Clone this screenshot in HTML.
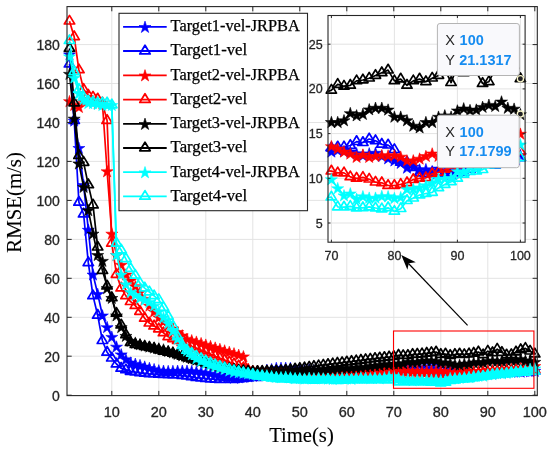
<!DOCTYPE html>
<html><head><meta charset="utf-8"><style>html,body{margin:0;padding:0;background:#fff;overflow:hidden}svg{display:block}</style></head><body>
<svg width="550" height="451" viewBox="0 0 550 451">
<defs><clipPath id="cm"><rect x="67.0" y="6.6" width="470.3" height="389.0"/></clipPath>
<clipPath id="ci"><rect x="328.0" y="15.5" width="197.1" height="226.7"/></clipPath></defs>
<rect width="550" height="451" fill="#fff"/>
<path d="M111.8,6.6V395.6M158.8,6.6V395.6M205.8,6.6V395.6M252.8,6.6V395.6M299.8,6.6V395.6M346.8,6.6V395.6M393.8,6.6V395.6M440.8,6.6V395.6M487.8,6.6V395.6M534.8,6.6V395.6M67.0,356.2H537.3M67.0,317.3H537.3M67.0,278.3H537.3M67.0,239.4H537.3M67.0,200.4H537.3M67.0,161.4H537.3M67.0,122.5H537.3M67.0,83.5H537.3M67.0,44.6H537.3" stroke="#e3e3e3" stroke-width="1" fill="none"/>
<path d="M69.5,54.3 74.2,120.5 78.9,147.8 83.6,184.8 88.3,229.6 93.0,274.4 97.7,293.9 102.4,315.3 107.1,327.0 111.8,336.8 116.5,346.5 121.2,354.3 125.9,359.2 130.6,362.5 135.3,363.7 140.0,365.0 144.7,366.5 149.4,367.9 154.1,369.1 158.8,370.3 163.5,370.7 168.2,371.0 172.9,370.8 177.6,370.7 182.3,370.7 187.0,370.7 191.7,371.0 196.4,371.4 201.1,372.0 205.8,372.6 210.5,373.6 215.2,374.6 219.9,375.5 224.6,376.5 229.3,377.1 234.0,377.7 238.7,377.2 243.4,376.7 248.1,376.2 252.8,375.7 257.5,373.6 262.2,370.8 266.9,369.8 271.6,369.1 276.3,367.9 281.0,367.8 285.7,367.8 290.4,367.9 295.1,368.9 299.8,368.9 304.5,369.9 309.2,369.3 313.9,370.4 318.6,370.8 323.3,370.8 328.0,370.3 332.7,370.9 337.4,370.5 342.1,370.9 346.8,370.8 351.5,370.7 356.2,371.3 360.9,370.7 365.6,370.4 370.3,370.8 375.0,370.6 379.7,370.2 384.4,370.1 389.1,370.6 393.8,369.9 398.5,369.6 403.2,369.8 407.9,369.9 412.6,370.2 417.3,370.7 422.0,370.3 426.7,370.1 431.4,370.8 436.1,371.4 440.8,371.8 445.5,372.3 450.2,373.4 454.9,373.1 459.6,373.8 464.3,373.7 469.0,374.2 473.7,373.6 478.4,374.0 483.1,373.8 487.8,373.4 492.5,372.6 497.2,372.6 501.9,372.4 506.6,371.6 511.3,371.8 516.0,371.1 520.7,371.6 525.4,370.8 530.1,371.2 534.8,370.7" fill="none" stroke="#0000ff" stroke-width="1.7" stroke-linejoin="round"/>
<path d="M69.5,48.6 70.9,53.0 75.5,53.0 71.8,55.6 73.2,60.0 69.5,57.3 65.8,60.0 67.2,55.6 63.5,53.0 68.1,53.0ZM74.2,114.8 75.6,119.2 80.2,119.2 76.5,121.9 77.9,126.2 74.2,123.5 70.5,126.2 71.9,121.9 68.2,119.2 72.8,119.2ZM78.9,142.1 80.3,146.5 84.9,146.5 81.2,149.1 82.6,153.5 78.9,150.8 75.2,153.5 76.6,149.1 72.9,146.5 77.5,146.5ZM83.6,179.1 85.0,183.5 89.6,183.5 85.9,186.2 87.3,190.5 83.6,187.8 79.9,190.5 81.3,186.2 77.6,183.5 82.2,183.5ZM88.3,223.9 89.7,228.3 94.3,228.3 90.6,231.0 92.0,235.3 88.3,232.6 84.6,235.3 86.0,231.0 82.3,228.3 86.9,228.3ZM93.0,268.7 94.4,273.1 99.0,273.1 95.3,275.8 96.7,280.1 93.0,277.4 89.3,280.1 90.7,275.8 87.0,273.1 91.6,273.1ZM97.7,288.2 99.1,292.6 103.7,292.6 100.0,295.2 101.4,299.6 97.7,296.9 94.0,299.6 95.4,295.2 91.7,292.6 96.3,292.6ZM102.4,309.6 103.8,314.0 108.4,314.0 104.7,316.7 106.1,321.0 102.4,318.3 98.7,321.0 100.1,316.7 96.4,314.0 101.0,314.0ZM107.1,321.3 108.5,325.7 113.1,325.7 109.4,328.4 110.8,332.7 107.1,330.0 103.4,332.7 104.8,328.4 101.1,325.7 105.7,325.7ZM111.8,331.1 113.2,335.4 117.8,335.4 114.1,338.1 115.5,342.5 111.8,339.8 108.1,342.5 109.5,338.1 105.8,335.4 110.4,335.4ZM116.5,340.8 117.9,345.2 122.5,345.2 118.8,347.8 120.2,352.2 116.5,349.5 112.8,352.2 114.2,347.8 110.5,345.2 115.1,345.2ZM121.2,348.6 122.6,352.9 127.2,352.9 123.5,355.6 124.9,360.0 121.2,357.3 117.5,360.0 118.9,355.6 115.2,352.9 119.8,352.9ZM125.9,353.5 127.3,357.8 131.9,357.8 128.2,360.5 129.6,364.9 125.9,362.2 122.2,364.9 123.6,360.5 119.9,357.8 124.5,357.8ZM130.6,356.8 132.0,361.1 136.6,361.1 132.9,363.8 134.3,368.2 130.6,365.5 126.9,368.2 128.3,363.8 124.6,361.1 129.2,361.1ZM135.3,358.0 136.7,362.4 141.3,362.4 137.6,365.1 139.0,369.4 135.3,366.7 131.6,369.4 133.0,365.1 129.3,362.4 133.9,362.4ZM140.0,359.3 141.4,363.7 146.0,363.7 142.3,366.4 143.7,370.7 140.0,368.0 136.3,370.7 137.7,366.4 134.0,363.7 138.6,363.7ZM144.7,360.8 146.1,365.1 150.7,365.1 147.0,367.8 148.4,372.2 144.7,369.5 141.0,372.2 142.4,367.8 138.7,365.1 143.3,365.1ZM149.4,362.2 150.8,366.6 155.4,366.6 151.7,369.3 153.1,373.6 149.4,370.9 145.7,373.6 147.1,369.3 143.4,366.6 148.0,366.6ZM154.1,363.4 155.5,367.8 160.1,367.8 156.4,370.4 157.8,374.8 154.1,372.1 150.4,374.8 151.8,370.4 148.1,367.8 152.7,367.8ZM158.8,364.6 160.2,368.9 164.8,368.9 161.1,371.6 162.5,376.0 158.8,373.3 155.1,376.0 156.5,371.6 152.8,368.9 157.4,368.9ZM163.5,365.0 164.9,369.3 169.5,369.3 165.8,372.0 167.2,376.4 163.5,373.7 159.8,376.4 161.2,372.0 157.5,369.3 162.1,369.3ZM168.2,365.3 169.6,369.7 174.2,369.7 170.5,372.4 171.9,376.7 168.2,374.1 164.5,376.7 165.9,372.4 162.2,369.7 166.8,369.7ZM172.9,365.2 174.3,369.5 178.9,369.5 175.2,372.2 176.6,376.5 172.9,373.9 169.2,376.5 170.6,372.2 166.9,369.5 171.5,369.5ZM177.6,365.0 179.0,369.3 183.6,369.3 179.9,372.0 181.3,376.4 177.6,373.7 173.9,376.4 175.3,372.0 171.6,369.3 176.2,369.3ZM182.3,365.0 183.7,369.3 188.3,369.3 184.6,372.0 186.0,376.4 182.3,373.7 178.6,376.4 180.0,372.0 176.3,369.3 180.9,369.3ZM187.0,365.0 188.4,369.3 193.0,369.3 189.3,372.0 190.7,376.4 187.0,373.7 183.3,376.4 184.7,372.0 181.0,369.3 185.6,369.3ZM191.7,365.3 193.1,369.7 197.7,369.7 194.0,372.4 195.4,376.7 191.7,374.1 188.0,376.7 189.4,372.4 185.7,369.7 190.3,369.7ZM196.4,365.7 197.8,370.1 202.4,370.1 198.7,372.8 200.1,377.1 196.4,374.4 192.7,377.1 194.1,372.8 190.4,370.1 195.0,370.1ZM201.1,366.3 202.5,370.7 207.1,370.7 203.4,373.4 204.8,377.7 201.1,375.0 197.4,377.7 198.8,373.4 195.1,370.7 199.7,370.7ZM205.8,366.9 207.2,371.3 211.8,371.3 208.1,373.9 209.5,378.3 205.8,375.6 202.1,378.3 203.5,373.9 199.8,371.3 204.4,371.3ZM210.5,367.9 211.9,372.2 216.5,372.2 212.8,374.9 214.2,379.3 210.5,376.6 206.8,379.3 208.2,374.9 204.5,372.2 209.1,372.2ZM215.2,368.9 216.6,373.2 221.2,373.2 217.5,375.9 218.9,380.2 215.2,377.6 211.5,380.2 212.9,375.9 209.2,373.2 213.8,373.2ZM219.9,369.8 221.3,374.2 225.9,374.2 222.2,376.9 223.6,381.2 219.9,378.5 216.2,381.2 217.6,376.9 213.9,374.2 218.5,374.2ZM224.6,370.8 226.0,375.2 230.6,375.2 226.9,377.8 228.3,382.2 224.6,379.5 220.9,382.2 222.3,377.8 218.6,375.2 223.2,375.2ZM229.3,371.4 230.7,375.7 235.3,375.7 231.6,378.4 233.0,382.8 229.3,380.1 225.6,382.8 227.0,378.4 223.3,375.7 227.9,375.7ZM234.0,372.0 235.4,376.3 240.0,376.3 236.3,379.0 237.7,383.4 234.0,380.7 230.3,383.4 231.7,379.0 228.0,376.3 232.6,376.3ZM238.7,371.5 240.1,375.8 244.7,375.8 241.0,378.5 242.4,382.9 238.7,380.2 235.0,382.9 236.4,378.5 232.7,375.8 237.3,375.8ZM243.4,371.0 244.8,375.3 249.4,375.3 245.7,378.0 247.1,382.4 243.4,379.7 239.7,382.4 241.1,378.0 237.4,375.3 242.0,375.3ZM248.1,370.5 249.5,374.9 254.1,374.9 250.4,377.6 251.8,381.9 248.1,379.2 244.4,381.9 245.8,377.6 242.1,374.9 246.7,374.9ZM252.8,370.0 254.2,374.4 258.8,374.4 255.1,377.1 256.5,381.4 252.8,378.7 249.1,381.4 250.5,377.1 246.8,374.4 251.4,374.4ZM257.5,367.9 258.9,372.2 263.5,372.2 259.8,374.9 261.2,379.3 257.5,376.6 253.8,379.3 255.2,374.9 251.5,372.2 256.1,372.2ZM262.2,365.2 263.6,369.5 268.2,369.5 264.5,372.2 265.9,376.5 262.2,373.9 258.5,376.5 259.9,372.2 256.2,369.5 260.8,369.5ZM266.9,364.1 268.3,368.5 272.9,368.5 269.2,371.2 270.6,375.5 266.9,372.8 263.2,375.5 264.6,371.2 260.9,368.5 265.5,368.5ZM271.6,363.4 273.0,367.7 277.6,367.7 273.9,370.4 275.3,374.8 271.6,372.1 267.9,374.8 269.3,370.4 265.6,367.7 270.2,367.7ZM276.3,362.2 277.7,366.6 282.3,366.6 278.6,369.3 280.0,373.6 276.3,370.9 272.6,373.6 274.0,369.3 270.3,366.6 274.9,366.6ZM281.0,362.1 282.4,366.5 287.0,366.5 283.3,369.2 284.7,373.5 281.0,370.8 277.3,373.5 278.7,369.2 275.0,366.5 279.6,366.5ZM285.7,362.1 287.1,366.4 291.7,366.4 288.0,369.1 289.4,373.5 285.7,370.8 282.0,373.5 283.4,369.1 279.7,366.4 284.3,366.4ZM290.4,362.2 291.8,366.6 296.4,366.6 292.7,369.3 294.1,373.6 290.4,370.9 286.7,373.6 288.1,369.3 284.4,366.6 289.0,366.6ZM295.1,363.2 296.5,367.6 301.1,367.6 297.4,370.3 298.8,374.6 295.1,371.9 291.4,374.6 292.8,370.3 289.1,367.6 293.7,367.6ZM299.8,363.2 301.2,367.6 305.8,367.6 302.1,370.2 303.5,374.6 299.8,371.9 296.1,374.6 297.5,370.2 293.8,367.6 298.4,367.6ZM304.5,364.2 305.9,368.5 310.5,368.5 306.8,371.2 308.2,375.6 304.5,372.9 300.8,375.6 302.2,371.2 298.5,368.5 303.1,368.5ZM309.2,363.6 310.6,367.9 315.2,367.9 311.5,370.6 312.9,375.0 309.2,372.3 305.5,375.0 306.9,370.6 303.2,367.9 307.8,367.9ZM313.9,364.7 315.3,369.0 319.9,369.0 316.2,371.7 317.6,376.1 313.9,373.4 310.2,376.1 311.6,371.7 307.9,369.0 312.5,369.0ZM318.6,365.1 320.0,369.4 324.6,369.4 320.9,372.1 322.3,376.5 318.6,373.8 314.9,376.5 316.3,372.1 312.6,369.4 317.2,369.4ZM323.3,365.2 324.7,369.5 329.3,369.5 325.6,372.2 327.0,376.5 323.3,373.9 319.6,376.5 321.0,372.2 317.3,369.5 321.9,369.5ZM328.0,364.6 329.4,368.9 334.0,368.9 330.3,371.6 331.7,376.0 328.0,373.3 324.3,376.0 325.7,371.6 322.0,368.9 326.6,368.9ZM332.7,365.2 334.1,369.5 338.7,369.5 335.0,372.2 336.4,376.6 332.7,373.9 329.0,376.6 330.4,372.2 326.7,369.5 331.3,369.5ZM337.4,364.8 338.8,369.1 343.4,369.1 339.7,371.8 341.1,376.2 337.4,373.5 333.7,376.2 335.1,371.8 331.4,369.1 336.0,369.1ZM342.1,365.2 343.5,369.5 348.1,369.5 344.4,372.2 345.8,376.6 342.1,373.9 338.4,376.6 339.8,372.2 336.1,369.5 340.7,369.5ZM346.8,365.2 348.2,369.5 352.8,369.5 349.1,372.2 350.5,376.5 346.8,373.9 343.1,376.5 344.5,372.2 340.8,369.5 345.4,369.5ZM351.5,365.0 352.9,369.3 357.5,369.3 353.8,372.0 355.2,376.4 351.5,373.7 347.8,376.4 349.2,372.0 345.5,369.3 350.1,369.3ZM356.2,365.6 357.6,369.9 362.2,369.9 358.5,372.6 359.9,377.0 356.2,374.3 352.5,377.0 353.9,372.6 350.2,369.9 354.8,369.9ZM360.9,365.0 362.3,369.3 366.9,369.3 363.2,372.0 364.6,376.4 360.9,373.7 357.2,376.4 358.6,372.0 354.9,369.3 359.5,369.3ZM365.6,364.7 367.0,369.1 371.6,369.1 367.9,371.8 369.3,376.1 365.6,373.4 361.9,376.1 363.3,371.8 359.6,369.1 364.2,369.1ZM370.3,365.2 371.7,369.5 376.3,369.5 372.6,372.2 374.0,376.5 370.3,373.9 366.6,376.5 368.0,372.2 364.3,369.5 368.9,369.5ZM375.0,364.9 376.4,369.3 381.0,369.3 377.3,372.0 378.7,376.3 375.0,373.6 371.3,376.3 372.7,372.0 369.0,369.3 373.6,369.3ZM379.7,364.5 381.1,368.8 385.7,368.8 382.0,371.5 383.4,375.9 379.7,373.2 376.0,375.9 377.4,371.5 373.7,368.8 378.3,368.8ZM384.4,364.4 385.8,368.7 390.4,368.7 386.7,371.4 388.1,375.8 384.4,373.1 380.7,375.8 382.1,371.4 378.4,368.7 383.0,368.7ZM389.1,364.9 390.5,369.2 395.1,369.2 391.4,371.9 392.8,376.3 389.1,373.6 385.4,376.3 386.8,371.9 383.1,369.2 387.7,369.2ZM393.8,364.2 395.2,368.5 399.8,368.5 396.1,371.2 397.5,375.6 393.8,372.9 390.1,375.6 391.5,371.2 387.8,368.5 392.4,368.5ZM398.5,363.9 399.9,368.2 404.5,368.2 400.8,370.9 402.2,375.3 398.5,372.6 394.8,375.3 396.2,370.9 392.5,368.2 397.1,368.2ZM403.2,364.1 404.6,368.4 409.2,368.4 405.5,371.1 406.9,375.5 403.2,372.8 399.5,375.5 400.9,371.1 397.2,368.4 401.8,368.4ZM407.9,364.2 409.3,368.5 413.9,368.5 410.2,371.2 411.6,375.6 407.9,372.9 404.2,375.6 405.6,371.2 401.9,368.5 406.5,368.5ZM412.6,364.5 414.0,368.9 418.6,368.9 414.9,371.6 416.3,375.9 412.6,373.2 408.9,375.9 410.3,371.6 406.6,368.9 411.2,368.9ZM417.3,365.0 418.7,369.3 423.3,369.3 419.6,372.0 421.0,376.4 417.3,373.7 413.6,376.4 415.0,372.0 411.3,369.3 415.9,369.3ZM422.0,364.6 423.4,368.9 428.0,368.9 424.3,371.6 425.7,376.0 422.0,373.3 418.3,376.0 419.7,371.6 416.0,368.9 420.6,368.9ZM426.7,364.4 428.1,368.8 432.7,368.8 429.0,371.5 430.4,375.8 426.7,373.1 423.0,375.8 424.4,371.5 420.7,368.8 425.3,368.8ZM431.4,365.2 432.8,369.5 437.4,369.5 433.7,372.2 435.1,376.5 431.4,373.9 427.7,376.5 429.1,372.2 425.4,369.5 430.0,369.5ZM436.1,365.7 437.5,370.0 442.1,370.0 438.4,372.7 439.8,377.1 436.1,374.4 432.4,377.1 433.8,372.7 430.1,370.0 434.7,370.0ZM440.8,366.1 442.2,370.5 446.8,370.5 443.1,373.2 444.5,377.5 440.8,374.8 437.1,377.5 438.5,373.2 434.8,370.5 439.4,370.5ZM445.5,366.6 446.9,371.0 451.5,371.0 447.8,373.7 449.2,378.0 445.5,375.4 441.8,378.0 443.2,373.7 439.5,371.0 444.1,371.0ZM450.2,367.7 451.6,372.0 456.2,372.0 452.5,374.7 453.9,379.1 450.2,376.4 446.5,379.1 447.9,374.7 444.2,372.0 448.8,372.0ZM454.9,367.4 456.3,371.8 460.9,371.8 457.2,374.5 458.6,378.8 454.9,376.1 451.2,378.8 452.6,374.5 448.9,371.8 453.5,371.8ZM459.6,368.1 461.0,372.4 465.6,372.4 461.9,375.1 463.3,379.5 459.6,376.8 455.9,379.5 457.3,375.1 453.6,372.4 458.2,372.4ZM464.3,368.0 465.7,372.4 470.3,372.4 466.6,375.1 468.0,379.4 464.3,376.7 460.6,379.4 462.0,375.1 458.3,372.4 462.9,372.4ZM469.0,368.5 470.4,372.8 475.0,372.8 471.3,375.5 472.7,379.9 469.0,377.2 465.3,379.9 466.7,375.5 463.0,372.8 467.6,372.8ZM473.7,367.9 475.1,372.2 479.7,372.2 476.0,374.9 477.4,379.3 473.7,376.6 470.0,379.3 471.4,374.9 467.7,372.2 472.3,372.2ZM478.4,368.3 479.8,372.6 484.4,372.6 480.7,375.3 482.1,379.7 478.4,377.0 474.7,379.7 476.1,375.3 472.4,372.6 477.0,372.6ZM483.1,368.1 484.5,372.5 489.1,372.5 485.4,375.1 486.8,379.5 483.1,376.8 479.4,379.5 480.8,375.1 477.1,372.5 481.7,372.5ZM487.8,367.7 489.2,372.0 493.8,372.0 490.1,374.7 491.5,379.1 487.8,376.4 484.1,379.1 485.5,374.7 481.8,372.0 486.4,372.0ZM492.5,366.9 493.9,371.3 498.5,371.3 494.8,374.0 496.2,378.3 492.5,375.6 488.8,378.3 490.2,374.0 486.5,371.3 491.1,371.3ZM497.2,366.9 498.6,371.3 503.2,371.3 499.5,373.9 500.9,378.3 497.2,375.6 493.5,378.3 494.9,373.9 491.2,371.3 495.8,371.3ZM501.9,366.7 503.3,371.1 507.9,371.1 504.2,373.8 505.6,378.1 501.9,375.4 498.2,378.1 499.6,373.8 495.9,371.1 500.5,371.1ZM506.6,365.9 508.0,370.2 512.6,370.2 508.9,372.9 510.3,377.3 506.6,374.6 502.9,377.3 504.3,372.9 500.6,370.2 505.2,370.2ZM511.3,366.1 512.7,370.5 517.3,370.5 513.6,373.2 515.0,377.5 511.3,374.8 507.6,377.5 509.0,373.2 505.3,370.5 509.9,370.5ZM516.0,365.4 517.4,369.7 522.0,369.7 518.3,372.4 519.7,376.8 516.0,374.1 512.3,376.8 513.7,372.4 510.0,369.7 514.6,369.7ZM520.7,365.9 522.1,370.3 526.7,370.3 523.0,373.0 524.4,377.3 520.7,374.7 517.0,377.3 518.4,373.0 514.7,370.3 519.3,370.3ZM525.4,365.2 526.8,369.5 531.4,369.5 527.7,372.2 529.1,376.5 525.4,373.9 521.7,376.5 523.1,372.2 519.4,369.5 524.0,369.5ZM530.1,365.5 531.5,369.8 536.1,369.8 532.4,372.5 533.8,376.9 530.1,374.2 526.4,376.9 527.8,372.5 524.1,369.8 528.7,369.8ZM534.8,365.0 536.2,369.3 540.8,369.3 537.1,372.0 538.5,376.4 534.8,373.7 531.1,376.4 532.5,372.0 528.8,369.3 533.4,369.3Z" fill="#0000ff" stroke="#0000ff" stroke-width="0.6" stroke-linejoin="round"/>
<path d="M69.5,64.0 74.2,120.5 78.9,202.3 83.6,214.0 88.3,262.7 93.0,295.9 97.7,315.3 102.4,340.7 107.1,352.3 111.8,358.2 116.5,364.0 121.2,368.3 125.9,369.9 130.6,371.4 135.3,372.1 140.0,372.8 144.7,373.3 149.4,373.8 154.1,374.1 158.8,374.4 163.5,374.6 168.2,374.7 172.9,374.9 177.6,375.1 182.3,375.6 187.0,376.1 191.7,376.9 196.4,377.7 201.1,378.2 205.8,378.6 210.5,379.0 215.2,379.3 219.9,379.6 224.6,379.6 229.3,379.6 234.0,379.6 238.7,379.1 243.4,378.6 248.1,378.2 252.8,377.7 257.5,377.4 262.2,376.0 266.9,376.0 271.6,375.2 276.3,374.7 281.0,374.8 285.7,374.3 290.4,374.3 295.1,374.1 299.8,373.8 304.5,373.7 309.2,373.7 313.9,373.3 318.6,373.6 323.3,373.8 328.0,373.3 332.7,373.4 337.4,373.2 342.1,373.6 346.8,373.8 351.5,373.8 356.2,372.6 360.9,372.1 365.6,371.7 370.3,371.8 375.0,371.2 379.7,370.5 384.4,370.5 389.1,369.3 393.8,369.1 398.5,368.9 403.2,368.9 407.9,368.6 412.6,367.7 417.3,368.0 422.0,367.1 426.7,367.5 431.4,368.3 436.1,368.5 440.8,369.5 445.5,372.2 450.2,372.2 454.9,373.4 459.6,374.5 464.3,374.7 469.0,374.5 473.7,375.1 478.4,375.1 483.1,375.3 487.8,374.6 492.5,374.4 497.2,373.8 501.9,373.1 506.6,372.6 511.3,372.6 516.0,372.9 520.7,371.9 525.4,371.8 530.1,372.1 534.8,371.2" fill="none" stroke="#0000ff" stroke-width="1.7" stroke-linejoin="round"/>
<path d="M69.5,58.2L74.7,66.9L64.3,66.9ZM74.2,114.7L79.4,123.4L69.0,123.4ZM78.9,196.5L84.1,205.2L73.8,205.2ZM83.6,208.2L88.8,216.9L78.4,216.9ZM88.3,256.9L93.5,265.6L83.1,265.6ZM93.0,290.1L98.2,298.7L87.8,298.7ZM97.7,309.5L102.8,318.2L92.5,318.2ZM102.4,334.9L107.6,343.5L97.2,343.5ZM107.1,346.5L112.2,355.2L101.9,355.2ZM111.8,352.4L117.0,361.0L106.6,361.0ZM116.5,358.2L121.7,366.9L111.3,366.9ZM121.2,362.5L126.4,371.2L116.0,371.2ZM125.9,364.1L131.1,372.7L120.8,372.7ZM130.6,365.6L135.8,374.3L125.4,374.3ZM135.3,366.3L140.5,375.0L130.2,375.0ZM140.0,367.0L145.2,375.6L134.8,375.6ZM144.7,367.5L149.8,376.1L139.5,376.1ZM149.4,368.0L154.6,376.6L144.2,376.6ZM154.1,368.3L159.2,376.9L148.9,376.9ZM158.8,368.6L164.0,377.2L153.7,377.2ZM163.5,368.8L168.7,377.4L158.3,377.4ZM168.2,368.9L173.3,377.6L163.0,377.6ZM172.9,369.1L178.1,377.8L167.8,377.8ZM177.6,369.3L182.8,378.0L172.5,378.0ZM182.3,369.8L187.5,378.5L177.2,378.5ZM187.0,370.3L192.2,379.0L181.8,379.0ZM191.7,371.1L196.8,379.7L186.5,379.7ZM196.4,371.9L201.5,380.5L191.2,380.5ZM201.1,372.4L206.3,381.0L196.0,381.0ZM205.8,372.8L211.0,381.5L200.7,381.5ZM210.5,373.2L215.7,381.8L205.3,381.8ZM215.2,373.5L220.3,382.1L210.0,382.1ZM219.9,373.8L225.0,382.5L214.7,382.5ZM224.6,373.8L229.8,382.5L219.5,382.5ZM229.3,373.8L234.5,382.5L224.2,382.5ZM234.0,373.8L239.2,382.5L228.8,382.5ZM238.7,373.3L243.8,382.0L233.5,382.0ZM243.4,372.8L248.5,381.5L238.2,381.5ZM248.1,372.4L253.3,381.0L243.0,381.0ZM252.8,371.9L257.9,380.5L247.7,380.5ZM257.5,371.6L262.6,380.3L252.3,380.3ZM262.2,370.2L267.3,378.8L257.1,378.8ZM266.9,370.2L272.0,378.8L261.8,378.8ZM271.6,369.4L276.8,378.0L266.5,378.0ZM276.3,368.9L281.4,377.6L271.2,377.6ZM281.0,369.0L286.1,377.6L275.9,377.6ZM285.7,368.5L290.8,377.2L280.6,377.2ZM290.4,368.5L295.6,377.1L285.3,377.1ZM295.1,368.3L300.2,377.0L290.0,377.0ZM299.8,368.0L304.9,376.6L294.7,376.6ZM304.5,367.9L309.6,376.5L299.4,376.5ZM309.2,367.9L314.3,376.5L304.1,376.5ZM313.9,367.5L319.1,376.1L308.8,376.1ZM318.6,367.8L323.8,376.4L313.5,376.4ZM323.3,368.0L328.4,376.6L318.2,376.6ZM328.0,367.5L333.1,376.1L322.9,376.1ZM332.7,367.6L337.9,376.2L327.6,376.2ZM337.4,367.4L342.6,376.0L332.3,376.0ZM342.1,367.8L347.2,376.4L337.0,376.4ZM346.8,368.0L351.9,376.6L341.7,376.6ZM351.5,368.0L356.6,376.6L346.4,376.6ZM356.2,366.8L361.4,375.4L351.1,375.4ZM360.9,366.3L366.1,374.9L355.8,374.9ZM365.6,365.9L370.8,374.6L360.5,374.6ZM370.3,366.0L375.4,374.7L365.2,374.7ZM375.0,365.4L380.1,374.0L369.9,374.0ZM379.7,364.7L384.9,373.3L374.6,373.3ZM384.4,364.7L389.6,373.4L379.3,373.4ZM389.1,363.5L394.2,372.1L384.0,372.1ZM393.8,363.3L398.9,371.9L388.7,371.9ZM398.5,363.1L403.6,371.8L393.4,371.8ZM403.2,363.1L408.4,371.8L398.1,371.8ZM407.9,362.8L413.1,371.4L402.8,371.4ZM412.6,361.9L417.8,370.6L407.5,370.6ZM417.3,362.2L422.4,370.8L412.2,370.8ZM422.0,361.3L427.1,370.0L416.9,370.0ZM426.7,361.7L431.9,370.4L421.6,370.4ZM431.4,362.5L436.6,371.2L426.3,371.2ZM436.1,362.7L441.2,371.3L431.0,371.3ZM440.8,363.7L445.9,372.3L435.7,372.3ZM445.5,366.4L450.6,375.1L440.4,375.1ZM450.2,366.4L455.4,375.1L445.1,375.1ZM454.9,367.6L460.1,376.2L449.8,376.2ZM459.6,368.7L464.8,377.4L454.5,377.4ZM464.3,368.9L469.4,377.6L459.2,377.6ZM469.0,368.7L474.1,377.4L463.9,377.4ZM473.7,369.3L478.9,378.0L468.6,378.0ZM478.4,369.3L483.6,378.0L473.3,378.0ZM483.1,369.5L488.2,378.1L478.0,378.1ZM487.8,368.8L492.9,377.4L482.7,377.4ZM492.5,368.6L497.6,377.3L487.4,377.3ZM497.2,368.0L502.4,376.6L492.1,376.6ZM501.9,367.3L507.1,375.9L496.8,375.9ZM506.6,366.8L511.8,375.4L501.5,375.4ZM511.3,366.8L516.5,375.5L506.2,375.5ZM516.0,367.1L521.1,375.7L510.9,375.7ZM520.7,366.1L525.9,374.8L515.6,374.8ZM525.4,366.0L530.5,374.7L520.2,374.7ZM530.1,366.3L535.2,374.9L525.0,374.9ZM534.8,365.4L539.9,374.1L529.6,374.1Z" fill="none" stroke="#0000ff" stroke-width="1.7" stroke-linejoin="round"/>
<path d="M69.5,101.1 74.2,104.9 78.9,106.9 83.6,101.1 88.3,99.1 93.0,101.1 97.7,103.0 102.4,103.0 107.1,171.2 111.8,233.5 116.5,254.9 121.2,264.7 125.9,274.4 130.6,280.3 135.3,286.1 140.0,292.0 144.7,298.8 149.4,305.6 154.1,311.4 158.8,317.3 163.5,321.2 168.2,325.1 172.9,328.5 177.6,331.9 182.3,335.3 187.0,338.7 191.7,340.2 196.4,341.6 201.1,343.1 205.8,344.6 210.5,346.0 215.2,347.5 219.9,348.9 224.6,350.4 229.3,351.9 234.0,353.3 238.7,354.8 243.4,356.2 248.1,368.9 252.8,370.8 257.5,370.8 262.2,371.4 266.9,371.0 271.6,371.1 276.3,371.8 281.0,372.0 285.7,371.6 290.4,372.6 295.1,373.1 299.8,372.8 304.5,372.9 309.2,373.7 313.9,373.7 318.6,373.7 323.3,373.8 328.0,373.6 332.7,374.2 337.4,374.3 342.1,373.3 346.8,373.8 351.5,373.8 356.2,372.8 360.9,372.7 365.6,373.1 370.3,372.8 375.0,372.0 379.7,371.1 384.4,370.2 389.1,369.4 393.8,368.7 398.5,369.2 403.2,369.9 407.9,370.3 412.6,371.0 417.3,370.5 422.0,371.0 426.7,370.8 431.4,370.7 436.1,370.7 440.8,370.7 445.5,371.0 450.2,371.8 454.9,371.8 459.6,371.4 464.3,370.8 469.0,370.3 473.7,370.8 478.4,370.8 483.1,370.3 487.8,369.9 492.5,370.1 497.2,369.3 501.9,368.9 506.6,368.5 511.3,368.8 516.0,367.9 520.7,367.3 525.4,366.8 530.1,367.0 534.8,366.0" fill="none" stroke="#ff0000" stroke-width="1.7" stroke-linejoin="round"/>
<path d="M69.5,95.4 70.9,99.7 75.5,99.7 71.8,102.4 73.2,106.8 69.5,104.1 65.8,106.8 67.2,102.4 63.5,99.7 68.1,99.7ZM74.2,99.2 75.6,103.6 80.2,103.6 76.5,106.3 77.9,110.6 74.2,108.0 70.5,110.6 71.9,106.3 68.2,103.6 72.8,103.6ZM78.9,101.2 80.3,105.6 84.9,105.6 81.2,108.2 82.6,112.6 78.9,109.9 75.2,112.6 76.6,108.2 72.9,105.6 77.5,105.6ZM83.6,95.4 85.0,99.7 89.6,99.7 85.9,102.4 87.3,106.8 83.6,104.1 79.9,106.8 81.3,102.4 77.6,99.7 82.2,99.7ZM88.3,93.4 89.7,97.8 94.3,97.8 90.6,100.4 92.0,104.8 88.3,102.1 84.6,104.8 86.0,100.4 82.3,97.8 86.9,97.8ZM93.0,95.4 94.4,99.7 99.0,99.7 95.3,102.4 96.7,106.8 93.0,104.1 89.3,106.8 90.7,102.4 87.0,99.7 91.6,99.7ZM97.7,97.3 99.1,101.7 103.7,101.7 100.0,104.3 101.4,108.7 97.7,106.0 94.0,108.7 95.4,104.3 91.7,101.7 96.3,101.7ZM102.4,97.3 103.8,101.7 108.4,101.7 104.7,104.3 106.1,108.7 102.4,106.0 98.7,108.7 100.1,104.3 96.4,101.7 101.0,101.7ZM107.1,165.5 108.5,169.8 113.1,169.8 109.4,172.5 110.8,176.9 107.1,174.2 103.4,176.9 104.8,172.5 101.1,169.8 105.7,169.8ZM111.8,227.8 113.2,232.2 117.8,232.2 114.1,234.9 115.5,239.2 111.8,236.5 108.1,239.2 109.5,234.9 105.8,232.2 110.4,232.2ZM116.5,249.2 117.9,253.6 122.5,253.6 118.8,256.3 120.2,260.6 116.5,258.0 112.8,260.6 114.2,256.3 110.5,253.6 115.1,253.6ZM121.2,259.0 122.6,263.3 127.2,263.3 123.5,266.0 124.9,270.4 121.2,267.7 117.5,270.4 118.9,266.0 115.2,263.3 119.8,263.3ZM125.9,268.7 127.3,273.1 131.9,273.1 128.2,275.8 129.6,280.1 125.9,277.4 122.2,280.1 123.6,275.8 119.9,273.1 124.5,273.1ZM130.6,274.6 132.0,278.9 136.6,278.9 132.9,281.6 134.3,286.0 130.6,283.3 126.9,286.0 128.3,281.6 124.6,278.9 129.2,278.9ZM135.3,280.4 136.7,284.8 141.3,284.8 137.6,287.5 139.0,291.8 135.3,289.1 131.6,291.8 133.0,287.5 129.3,284.8 133.9,284.8ZM140.0,286.3 141.4,290.6 146.0,290.6 142.3,293.3 143.7,297.7 140.0,295.0 136.3,297.7 137.7,293.3 134.0,290.6 138.6,290.6ZM144.7,293.1 146.1,297.4 150.7,297.4 147.0,300.1 148.4,304.5 144.7,301.8 141.0,304.5 142.4,300.1 138.7,297.4 143.3,297.4ZM149.4,299.9 150.8,304.2 155.4,304.2 151.7,306.9 153.1,311.3 149.4,308.6 145.7,311.3 147.1,306.9 143.4,304.2 148.0,304.2ZM154.1,305.7 155.5,310.1 160.1,310.1 156.4,312.8 157.8,317.1 154.1,314.4 150.4,317.1 151.8,312.8 148.1,310.1 152.7,310.1ZM158.8,311.6 160.2,315.9 164.8,315.9 161.1,318.6 162.5,323.0 158.8,320.3 155.1,323.0 156.5,318.6 152.8,315.9 157.4,315.9ZM163.5,315.5 164.9,319.8 169.5,319.8 165.8,322.5 167.2,326.9 163.5,324.2 159.8,326.9 161.2,322.5 157.5,319.8 162.1,319.8ZM168.2,319.4 169.6,323.7 174.2,323.7 170.5,326.4 171.9,330.8 168.2,328.1 164.5,330.8 165.9,326.4 162.2,323.7 166.8,323.7ZM172.9,322.8 174.3,327.1 178.9,327.1 175.2,329.8 176.6,334.2 172.9,331.5 169.2,334.2 170.6,329.8 166.9,327.1 171.5,327.1ZM177.6,326.2 179.0,330.5 183.6,330.5 179.9,333.2 181.3,337.6 177.6,334.9 173.9,337.6 175.3,333.2 171.6,330.5 176.2,330.5ZM182.3,329.6 183.7,334.0 188.3,334.0 184.6,336.6 186.0,341.0 182.3,338.3 178.6,341.0 180.0,336.6 176.3,334.0 180.9,334.0ZM187.0,333.0 188.4,337.4 193.0,337.4 189.3,340.1 190.7,344.4 187.0,341.7 183.3,344.4 184.7,340.1 181.0,337.4 185.6,337.4ZM191.7,334.5 193.1,338.8 197.7,338.8 194.0,341.5 195.4,345.9 191.7,343.2 188.0,345.9 189.4,341.5 185.7,338.8 190.3,338.8ZM196.4,335.9 197.8,340.3 202.4,340.3 198.7,343.0 200.1,347.3 196.4,344.6 192.7,347.3 194.1,343.0 190.4,340.3 195.0,340.3ZM201.1,337.4 202.5,341.7 207.1,341.7 203.4,344.4 204.8,348.8 201.1,346.1 197.4,348.8 198.8,344.4 195.1,341.7 199.7,341.7ZM205.8,338.9 207.2,343.2 211.8,343.2 208.1,345.9 209.5,350.3 205.8,347.6 202.1,350.3 203.5,345.9 199.8,343.2 204.4,343.2ZM210.5,340.3 211.9,344.7 216.5,344.7 212.8,347.4 214.2,351.7 210.5,349.0 206.8,351.7 208.2,347.4 204.5,344.7 209.1,344.7ZM215.2,341.8 216.6,346.1 221.2,346.1 217.5,348.8 218.9,353.2 215.2,350.5 211.5,353.2 212.9,348.8 209.2,346.1 213.8,346.1ZM219.9,343.2 221.3,347.6 225.9,347.6 222.2,350.3 223.6,354.6 219.9,351.9 216.2,354.6 217.6,350.3 213.9,347.6 218.5,347.6ZM224.6,344.7 226.0,349.1 230.6,349.1 226.9,351.7 228.3,356.1 224.6,353.4 220.9,356.1 222.3,351.7 218.6,349.1 223.2,349.1ZM229.3,346.2 230.7,350.5 235.3,350.5 231.6,353.2 233.0,357.6 229.3,354.9 225.6,357.6 227.0,353.2 223.3,350.5 227.9,350.5ZM234.0,347.6 235.4,352.0 240.0,352.0 236.3,354.7 237.7,359.0 234.0,356.3 230.3,359.0 231.7,354.7 228.0,352.0 232.6,352.0ZM238.7,349.1 240.1,353.4 244.7,353.4 241.0,356.1 242.4,360.5 238.7,357.8 235.0,360.5 236.4,356.1 232.7,353.4 237.3,353.4ZM243.4,350.5 244.8,354.9 249.4,354.9 245.7,357.6 247.1,361.9 243.4,359.2 239.7,361.9 241.1,357.6 237.4,354.9 242.0,354.9ZM248.1,363.2 249.5,367.6 254.1,367.6 250.4,370.2 251.8,374.6 248.1,371.9 244.4,374.6 245.8,370.2 242.1,367.6 246.7,367.6ZM252.8,365.2 254.2,369.5 258.8,369.5 255.1,372.2 256.5,376.5 252.8,373.9 249.1,376.5 250.5,372.2 246.8,369.5 251.4,369.5ZM257.5,365.1 258.9,369.4 263.5,369.4 259.8,372.1 261.2,376.5 257.5,373.8 253.8,376.5 255.2,372.1 251.5,369.4 256.1,369.4ZM262.2,365.7 263.6,370.1 268.2,370.1 264.5,372.8 265.9,377.1 262.2,374.4 258.5,377.1 259.9,372.8 256.2,370.1 260.8,370.1ZM266.9,365.3 268.3,369.6 272.9,369.6 269.2,372.3 270.6,376.7 266.9,374.0 263.2,376.7 264.6,372.3 260.9,369.6 265.5,369.6ZM271.6,365.4 273.0,369.7 277.6,369.7 273.9,372.4 275.3,376.8 271.6,374.1 267.9,376.8 269.3,372.4 265.6,369.7 270.2,369.7ZM276.3,366.1 277.7,370.5 282.3,370.5 278.6,373.2 280.0,377.5 276.3,374.8 272.6,377.5 274.0,373.2 270.3,370.5 274.9,370.5ZM281.0,366.3 282.4,370.7 287.0,370.7 283.3,373.4 284.7,377.7 281.0,375.0 277.3,377.7 278.7,373.4 275.0,370.7 279.6,370.7ZM285.7,365.9 287.1,370.3 291.7,370.3 288.0,373.0 289.4,377.3 285.7,374.6 282.0,377.3 283.4,373.0 279.7,370.3 284.3,370.3ZM290.4,366.9 291.8,371.3 296.4,371.3 292.7,374.0 294.1,378.3 290.4,375.6 286.7,378.3 288.1,374.0 284.4,371.3 289.0,371.3ZM295.1,367.4 296.5,371.8 301.1,371.8 297.4,374.4 298.8,378.8 295.1,376.1 291.4,378.8 292.8,374.4 289.1,371.8 293.7,371.8ZM299.8,367.1 301.2,371.5 305.8,371.5 302.1,374.1 303.5,378.5 299.8,375.8 296.1,378.5 297.5,374.1 293.8,371.5 298.4,371.5ZM304.5,367.2 305.9,371.5 310.5,371.5 306.8,374.2 308.2,378.6 304.5,375.9 300.8,378.6 302.2,374.2 298.5,371.5 303.1,371.5ZM309.2,368.0 310.6,372.4 315.2,372.4 311.5,375.1 312.9,379.4 309.2,376.7 305.5,379.4 306.9,375.1 303.2,372.4 307.8,372.4ZM313.9,368.0 315.3,372.4 319.9,372.4 316.2,375.1 317.6,379.4 313.9,376.7 310.2,379.4 311.6,375.1 307.9,372.4 312.5,372.4ZM318.6,368.0 320.0,372.3 324.6,372.3 320.9,375.0 322.3,379.4 318.6,376.7 314.9,379.4 316.3,375.0 312.6,372.3 317.2,372.3ZM323.3,368.1 324.7,372.4 329.3,372.4 325.6,375.1 327.0,379.5 323.3,376.8 319.6,379.5 321.0,375.1 317.3,372.4 321.9,372.4ZM328.0,367.9 329.4,372.3 334.0,372.3 330.3,375.0 331.7,379.3 328.0,376.7 324.3,379.3 325.7,375.0 322.0,372.3 326.6,372.3ZM332.7,368.5 334.1,372.8 338.7,372.8 335.0,375.5 336.4,379.9 332.7,377.2 329.0,379.9 330.4,375.5 326.7,372.8 331.3,372.8ZM337.4,368.6 338.8,373.0 343.4,373.0 339.7,375.7 341.1,380.0 337.4,377.3 333.7,380.0 335.1,375.7 331.4,373.0 336.0,373.0ZM342.1,367.6 343.5,372.0 348.1,372.0 344.4,374.7 345.8,379.0 342.1,376.4 338.4,379.0 339.8,374.7 336.1,372.0 340.7,372.0ZM346.8,368.1 348.2,372.4 352.8,372.4 349.1,375.1 350.5,379.5 346.8,376.8 343.1,379.5 344.5,375.1 340.8,372.4 345.4,372.4ZM351.5,368.1 352.9,372.4 357.5,372.4 353.8,375.1 355.2,379.5 351.5,376.8 347.8,379.5 349.2,375.1 345.5,372.4 350.1,372.4ZM356.2,367.1 357.6,371.5 362.2,371.5 358.5,374.2 359.9,378.5 356.2,375.9 352.5,378.5 353.9,374.2 350.2,371.5 354.8,371.5ZM360.9,367.0 362.3,371.4 366.9,371.4 363.2,374.1 364.6,378.4 360.9,375.7 357.2,378.4 358.6,374.1 354.9,371.4 359.5,371.4ZM365.6,367.4 367.0,371.8 371.6,371.8 367.9,374.5 369.3,378.8 365.6,376.1 361.9,378.8 363.3,374.5 359.6,371.8 364.2,371.8ZM370.3,367.1 371.7,371.5 376.3,371.5 372.6,374.1 374.0,378.5 370.3,375.8 366.6,378.5 368.0,374.1 364.3,371.5 368.9,371.5ZM375.0,366.3 376.4,370.7 381.0,370.7 377.3,373.4 378.7,377.7 375.0,375.0 371.3,377.7 372.7,373.4 369.0,370.7 373.6,370.7ZM379.7,365.4 381.1,369.8 385.7,369.8 382.0,372.5 383.4,376.8 379.7,374.1 376.0,376.8 377.4,372.5 373.7,369.8 378.3,369.8ZM384.4,364.5 385.8,368.8 390.4,368.8 386.7,371.5 388.1,375.9 384.4,373.2 380.7,375.9 382.1,371.5 378.4,368.8 383.0,368.8ZM389.1,363.7 390.5,368.1 395.1,368.1 391.4,370.8 392.8,375.1 389.1,372.4 385.4,375.1 386.8,370.8 383.1,368.1 387.7,368.1ZM393.8,363.0 395.2,367.4 399.8,367.4 396.1,370.1 397.5,374.4 393.8,371.7 390.1,374.4 391.5,370.1 387.8,367.4 392.4,367.4ZM398.5,363.5 399.9,367.9 404.5,367.9 400.8,370.6 402.2,374.9 398.5,372.2 394.8,374.9 396.2,370.6 392.5,367.9 397.1,367.9ZM403.2,364.2 404.6,368.5 409.2,368.5 405.5,371.2 406.9,375.6 403.2,372.9 399.5,375.6 400.9,371.2 397.2,368.5 401.8,368.5ZM407.9,364.6 409.3,369.0 413.9,369.0 410.2,371.7 411.6,376.0 407.9,373.3 404.2,376.0 405.6,371.7 401.9,369.0 406.5,369.0ZM412.6,365.3 414.0,369.7 418.6,369.7 414.9,372.4 416.3,376.7 412.6,374.1 408.9,376.7 410.3,372.4 406.6,369.7 411.2,369.7ZM417.3,364.8 418.7,369.2 423.3,369.2 419.6,371.9 421.0,376.2 417.3,373.5 413.6,376.2 415.0,371.9 411.3,369.2 415.9,369.2ZM422.0,365.3 423.4,369.7 428.0,369.7 424.3,372.4 425.7,376.7 422.0,374.1 418.3,376.7 419.7,372.4 416.0,369.7 420.6,369.7ZM426.7,365.1 428.1,369.5 432.7,369.5 429.0,372.2 430.4,376.5 426.7,373.9 423.0,376.5 424.4,372.2 420.7,369.5 425.3,369.5ZM431.4,365.0 432.8,369.3 437.4,369.3 433.7,372.0 435.1,376.4 431.4,373.7 427.7,376.4 429.1,372.0 425.4,369.3 430.0,369.3ZM436.1,365.0 437.5,369.4 442.1,369.4 438.4,372.1 439.8,376.4 436.1,373.7 432.4,376.4 433.8,372.1 430.1,369.4 434.7,369.4ZM440.8,365.0 442.2,369.3 446.8,369.3 443.1,372.0 444.5,376.4 440.8,373.7 437.1,376.4 438.5,372.0 434.8,369.3 439.4,369.3ZM445.5,365.3 446.9,369.6 451.5,369.6 447.8,372.3 449.2,376.7 445.5,374.0 441.8,376.7 443.2,372.3 439.5,369.6 444.1,369.6ZM450.2,366.1 451.6,370.5 456.2,370.5 452.5,373.2 453.9,377.5 450.2,374.8 446.5,377.5 447.9,373.2 444.2,370.5 448.8,370.5ZM454.9,366.1 456.3,370.5 460.9,370.5 457.2,373.2 458.6,377.5 454.9,374.8 451.2,377.5 452.6,373.2 448.9,370.5 453.5,370.5ZM459.6,365.7 461.0,370.1 465.6,370.1 461.9,372.8 463.3,377.1 459.6,374.4 455.9,377.1 457.3,372.8 453.6,370.1 458.2,370.1ZM464.3,365.2 465.7,369.5 470.3,369.5 466.6,372.2 468.0,376.5 464.3,373.9 460.6,376.5 462.0,372.2 458.3,369.5 462.9,369.5ZM469.0,364.6 470.4,368.9 475.0,368.9 471.3,371.6 472.7,376.0 469.0,373.3 465.3,376.0 466.7,371.6 463.0,368.9 467.6,368.9ZM473.7,365.1 475.1,369.5 479.7,369.5 476.0,372.2 477.4,376.5 473.7,373.8 470.0,376.5 471.4,372.2 467.7,369.5 472.3,369.5ZM478.4,365.2 479.8,369.5 484.4,369.5 480.7,372.2 482.1,376.5 478.4,373.9 474.7,376.5 476.1,372.2 472.4,369.5 477.0,369.5ZM483.1,364.6 484.5,369.0 489.1,369.0 485.4,371.7 486.8,376.0 483.1,373.3 479.4,376.0 480.8,371.7 477.1,369.0 481.7,369.0ZM487.8,364.2 489.2,368.5 493.8,368.5 490.1,371.2 491.5,375.6 487.8,372.9 484.1,375.6 485.5,371.2 481.8,368.5 486.4,368.5ZM492.5,364.4 493.9,368.8 498.5,368.8 494.8,371.5 496.2,375.8 492.5,373.1 488.8,375.8 490.2,371.5 486.5,368.8 491.1,368.8ZM497.2,363.6 498.6,368.0 503.2,368.0 499.5,370.7 500.9,375.0 497.2,372.3 493.5,375.0 494.9,370.7 491.2,368.0 495.8,368.0ZM501.9,363.2 503.3,367.6 507.9,367.6 504.2,370.2 505.6,374.6 501.9,371.9 498.2,374.6 499.6,370.2 495.9,367.6 500.5,367.6ZM506.6,362.8 508.0,367.1 512.6,367.1 508.9,369.8 510.3,374.2 506.6,371.5 502.9,374.2 504.3,369.8 500.6,367.1 505.2,367.1ZM511.3,363.1 512.7,367.5 517.3,367.5 513.6,370.2 515.0,374.5 511.3,371.8 507.6,374.5 509.0,370.2 505.3,367.5 509.9,367.5ZM516.0,362.2 517.4,366.6 522.0,366.6 518.3,369.3 519.7,373.6 516.0,370.9 512.3,373.6 513.7,369.3 510.0,366.6 514.6,366.6ZM520.7,361.6 522.1,366.0 526.7,366.0 523.0,368.7 524.4,373.0 520.7,370.3 517.0,373.0 518.4,368.7 514.7,366.0 519.3,366.0ZM525.4,361.1 526.8,365.5 531.4,365.5 527.7,368.1 529.1,372.5 525.4,369.8 521.7,372.5 523.1,368.1 519.4,365.5 524.0,365.5ZM530.1,361.3 531.5,365.6 536.1,365.6 532.4,368.3 533.8,372.7 530.1,370.0 526.4,372.7 527.8,368.3 524.1,365.6 528.7,365.6ZM534.8,360.3 536.2,364.6 540.8,364.6 537.1,367.3 538.5,371.7 534.8,369.0 531.1,371.7 532.5,367.3 528.8,364.6 533.4,364.6Z" fill="#ff0000" stroke="#ff0000" stroke-width="0.6" stroke-linejoin="round"/>
<path d="M69.5,21.2 74.2,36.8 78.9,69.9 83.6,89.4 88.3,95.2 93.0,97.2 97.7,99.1 102.4,103.0 107.1,120.5 111.8,243.3 116.5,274.4 121.2,288.1 125.9,295.9 130.6,301.7 135.3,305.6 140.0,311.4 144.7,318.3 149.4,323.1 154.1,326.0 158.8,329.0 163.5,332.9 168.2,336.8 172.9,338.7 177.6,340.7 182.3,342.6 187.0,344.6 191.7,346.5 196.4,348.4 201.1,350.4 205.8,352.3 210.5,354.3 215.2,356.2 219.9,358.2 224.6,360.1 229.3,362.1 234.0,364.0 238.7,366.0 243.4,367.9 248.1,369.9 252.8,371.8 257.5,372.1 262.2,372.6 266.9,372.8 271.6,373.5 276.3,373.8 281.0,373.8 285.7,373.9 290.4,374.8 295.1,375.0 299.8,374.7 304.5,374.8 309.2,374.7 313.9,375.6 318.6,375.6 323.3,375.7 328.0,375.6 332.7,375.9 337.4,375.9 342.1,375.9 346.8,375.7 351.5,375.7 356.2,375.2 360.9,375.3 365.6,375.1 370.3,374.7 375.0,374.4 379.7,375.0 384.4,374.3 389.1,374.0 393.8,374.2 398.5,374.5 403.2,374.6 407.9,375.4 412.6,375.7 417.3,375.5 422.0,375.9 426.7,376.6 431.4,376.7 436.1,377.3 440.8,377.3 445.5,377.0 450.2,376.7 454.9,376.0 459.6,375.7 464.3,375.6 469.0,374.7 473.7,374.4 478.4,373.8 483.1,373.4 487.8,372.8 492.5,372.1 497.2,372.2 501.9,371.8 506.6,371.2 511.3,371.5 516.0,370.8 520.7,370.8 525.4,370.2 530.1,369.7 534.8,369.9" fill="none" stroke="#ff0000" stroke-width="1.7" stroke-linejoin="round"/>
<path d="M69.5,15.4L74.7,24.0L64.3,24.0ZM74.2,31.0L79.4,39.6L69.0,39.6ZM78.9,64.1L84.1,72.7L73.8,72.7ZM83.6,83.6L88.8,92.2L78.4,92.2ZM88.3,89.4L93.5,98.1L83.1,98.1ZM93.0,91.4L98.2,100.0L87.8,100.0ZM97.7,93.3L102.8,102.0L92.5,102.0ZM102.4,97.2L107.6,105.8L97.2,105.8ZM107.1,114.7L112.2,123.4L101.9,123.4ZM111.8,237.5L117.0,246.1L106.6,246.1ZM116.5,268.6L121.7,277.3L111.3,277.3ZM121.2,282.3L126.4,290.9L116.0,290.9ZM125.9,290.1L131.1,298.7L120.8,298.7ZM130.6,295.9L135.8,304.5L125.4,304.5ZM135.3,299.8L140.5,308.4L130.2,308.4ZM140.0,305.6L145.2,314.3L134.8,314.3ZM144.7,312.5L149.8,321.1L139.5,321.1ZM149.4,317.3L154.6,326.0L144.2,326.0ZM154.1,320.2L159.2,328.9L148.9,328.9ZM158.8,323.2L164.0,331.8L153.7,331.8ZM163.5,327.1L168.7,335.7L158.3,335.7ZM168.2,331.0L173.3,339.6L163.0,339.6ZM172.9,332.9L178.1,341.6L167.8,341.6ZM177.6,334.9L182.8,343.5L172.5,343.5ZM182.3,336.8L187.5,345.5L177.2,345.5ZM187.0,338.8L192.2,347.4L181.8,347.4ZM191.7,340.7L196.8,349.4L186.5,349.4ZM196.4,342.6L201.5,351.3L191.2,351.3ZM201.1,344.6L206.3,353.2L196.0,353.2ZM205.8,346.5L211.0,355.2L200.7,355.2ZM210.5,348.5L215.7,357.1L205.3,357.1ZM215.2,350.4L220.3,359.1L210.0,359.1ZM219.9,352.4L225.0,361.0L214.7,361.0ZM224.6,354.3L229.8,363.0L219.5,363.0ZM229.3,356.3L234.5,364.9L224.2,364.9ZM234.0,358.2L239.2,366.9L228.8,366.9ZM238.7,360.2L243.8,368.8L233.5,368.8ZM243.4,362.1L248.5,370.8L238.2,370.8ZM248.1,364.1L253.3,372.7L243.0,372.7ZM252.8,366.0L257.9,374.7L247.7,374.7ZM257.5,366.3L262.6,374.9L252.3,374.9ZM262.2,366.8L267.3,375.5L257.1,375.5ZM266.9,367.0L272.0,375.7L261.8,375.7ZM271.6,367.7L276.8,376.4L266.5,376.4ZM276.3,368.0L281.4,376.6L271.2,376.6ZM281.0,368.0L286.1,376.6L275.9,376.6ZM285.7,368.1L290.8,376.8L280.6,376.8ZM290.4,369.0L295.6,377.7L285.3,377.7ZM295.1,369.2L300.2,377.8L290.0,377.8ZM299.8,368.9L304.9,377.6L294.7,377.6ZM304.5,369.0L309.6,377.6L299.4,377.6ZM309.2,368.9L314.3,377.5L304.1,377.5ZM313.9,369.8L319.1,378.4L308.8,378.4ZM318.6,369.8L323.8,378.4L313.5,378.4ZM323.3,369.9L328.4,378.6L318.2,378.6ZM328.0,369.8L333.1,378.5L322.9,378.5ZM332.7,370.1L337.9,378.7L327.6,378.7ZM337.4,370.1L342.6,378.7L332.3,378.7ZM342.1,370.1L347.2,378.8L337.0,378.8ZM346.8,369.9L351.9,378.6L341.7,378.6ZM351.5,369.9L356.6,378.5L346.4,378.5ZM356.2,369.4L361.4,378.1L351.1,378.1ZM360.9,369.5L366.1,378.2L355.8,378.2ZM365.6,369.3L370.8,377.9L360.5,377.9ZM370.3,368.9L375.4,377.6L365.2,377.6ZM375.0,368.6L380.1,377.2L369.9,377.2ZM379.7,369.2L384.9,377.8L374.6,377.8ZM384.4,368.5L389.6,377.2L379.3,377.2ZM389.1,368.2L394.2,376.9L384.0,376.9ZM393.8,368.4L398.9,377.0L388.7,377.0ZM398.5,368.7L403.6,377.4L393.4,377.4ZM403.2,368.8L408.4,377.4L398.1,377.4ZM407.9,369.6L413.1,378.3L402.8,378.3ZM412.6,369.9L417.8,378.6L407.5,378.6ZM417.3,369.7L422.4,378.4L412.2,378.4ZM422.0,370.1L427.1,378.8L416.9,378.8ZM426.7,370.8L431.9,379.4L421.6,379.4ZM431.4,370.9L436.6,379.5L426.3,379.5ZM436.1,371.5L441.2,380.1L431.0,380.1ZM440.8,371.5L445.9,380.1L435.7,380.1ZM445.5,371.2L450.6,379.9L440.4,379.9ZM450.2,370.9L455.4,379.5L445.1,379.5ZM454.9,370.2L460.1,378.9L449.8,378.9ZM459.6,369.9L464.8,378.6L454.5,378.6ZM464.3,369.8L469.4,378.5L459.2,378.5ZM469.0,368.9L474.1,377.6L463.9,377.6ZM473.7,368.6L478.9,377.3L468.6,377.3ZM478.4,368.0L483.6,376.6L473.3,376.6ZM483.1,367.6L488.2,376.3L478.0,376.3ZM487.8,367.0L492.9,375.6L482.7,375.6ZM492.5,366.3L497.6,375.0L487.4,375.0ZM497.2,366.4L502.4,375.1L492.1,375.1ZM501.9,366.0L507.1,374.7L496.8,374.7ZM506.6,365.4L511.8,374.0L501.5,374.0ZM511.3,365.7L516.5,374.3L506.2,374.3ZM516.0,365.0L521.1,373.7L510.9,373.7ZM520.7,365.0L525.9,373.6L515.6,373.6ZM525.4,364.4L530.5,373.1L520.2,373.1ZM530.1,363.9L535.2,372.6L525.0,372.6ZM534.8,364.1L539.9,372.7L529.6,372.7Z" fill="none" stroke="#ff0000" stroke-width="1.7" stroke-linejoin="round"/>
<path d="M69.5,73.8 74.2,118.6 78.9,163.4 83.6,186.8 88.3,210.1 93.0,233.5 97.7,254.9 102.4,260.8 107.1,288.1 111.8,297.8 116.5,315.3 121.2,327.0 125.9,335.8 130.6,340.7 135.3,342.6 140.0,344.1 144.7,345.5 149.4,346.5 154.1,347.5 158.8,348.4 163.5,349.4 168.2,350.9 172.9,352.3 177.6,353.8 182.3,355.3 187.0,356.7 191.7,358.2 196.4,359.5 201.1,360.8 205.8,362.1 210.5,363.4 215.2,364.7 219.9,366.0 224.6,367.0 229.3,367.9 234.0,368.9 238.7,369.6 243.4,370.4 248.1,371.1 252.8,371.8 257.5,371.9 262.2,372.0 266.9,372.1 271.6,371.8 276.3,371.8 281.0,371.8 285.7,371.0 290.4,370.6 295.1,370.8 299.8,370.3 304.5,370.2 309.2,369.6 313.9,369.6 318.6,369.2 323.3,369.3 328.0,369.1 332.7,369.0 337.4,368.6 342.1,368.0 346.8,367.9 351.5,367.8 356.2,367.4 360.9,367.0 365.6,366.5 370.3,366.0 375.0,365.4 379.7,365.0 384.4,364.1 389.1,364.2 393.8,363.4 398.5,363.4 403.2,363.1 407.9,361.5 412.6,362.0 417.3,361.7 422.0,360.7 426.7,360.3 431.4,360.3 436.1,360.7 440.8,362.3 445.5,362.3 450.2,363.1 454.9,364.2 459.6,364.6 464.3,363.4 469.0,363.4 473.7,362.3 478.4,362.0 483.1,362.3 487.8,360.9 492.5,360.5 497.2,360.8 501.9,360.7 506.6,360.1 511.3,359.7 516.0,359.9 520.7,359.0 525.4,360.3 530.1,360.5 534.8,361.7" fill="none" stroke="#000000" stroke-width="1.7" stroke-linejoin="round"/>
<path d="M69.5,68.1 70.9,72.4 75.5,72.4 71.8,75.1 73.2,79.5 69.5,76.8 65.8,79.5 67.2,75.1 63.5,72.4 68.1,72.4ZM74.2,112.9 75.6,117.2 80.2,117.2 76.5,119.9 77.9,124.3 74.2,121.6 70.5,124.3 71.9,119.9 68.2,117.2 72.8,117.2ZM78.9,157.7 80.3,162.0 84.9,162.0 81.2,164.7 82.6,169.1 78.9,166.4 75.2,169.1 76.6,164.7 72.9,162.0 77.5,162.0ZM83.6,181.1 85.0,185.4 89.6,185.4 85.9,188.1 87.3,192.5 83.6,189.8 79.9,192.5 81.3,188.1 77.6,185.4 82.2,185.4ZM88.3,204.4 89.7,208.8 94.3,208.8 90.6,211.5 92.0,215.8 88.3,213.1 84.6,215.8 86.0,211.5 82.3,208.8 86.9,208.8ZM93.0,227.8 94.4,232.2 99.0,232.2 95.3,234.9 96.7,239.2 93.0,236.5 89.3,239.2 90.7,234.9 87.0,232.2 91.6,232.2ZM97.7,249.2 99.1,253.6 103.7,253.6 100.0,256.3 101.4,260.6 97.7,258.0 94.0,260.6 95.4,256.3 91.7,253.6 96.3,253.6ZM102.4,255.1 103.8,259.4 108.4,259.4 104.7,262.1 106.1,266.5 102.4,263.8 98.7,266.5 100.1,262.1 96.4,259.4 101.0,259.4ZM107.1,282.4 108.5,286.7 113.1,286.7 109.4,289.4 110.8,293.8 107.1,291.1 103.4,293.8 104.8,289.4 101.1,286.7 105.7,286.7ZM111.8,292.1 113.2,296.5 117.8,296.5 114.1,299.1 115.5,303.5 111.8,300.8 108.1,303.5 109.5,299.1 105.8,296.5 110.4,296.5ZM116.5,309.6 117.9,314.0 122.5,314.0 118.8,316.7 120.2,321.0 116.5,318.3 112.8,321.0 114.2,316.7 110.5,314.0 115.1,314.0ZM121.2,321.3 122.6,325.7 127.2,325.7 123.5,328.4 124.9,332.7 121.2,330.0 117.5,332.7 118.9,328.4 115.2,325.7 119.8,325.7ZM125.9,330.1 127.3,334.4 131.9,334.4 128.2,337.1 129.6,341.5 125.9,338.8 122.2,341.5 123.6,337.1 119.9,334.4 124.5,334.4ZM130.6,335.0 132.0,339.3 136.6,339.3 132.9,342.0 134.3,346.4 130.6,343.7 126.9,346.4 128.3,342.0 124.6,339.3 129.2,339.3ZM135.3,336.9 136.7,341.3 141.3,341.3 137.6,343.9 139.0,348.3 135.3,345.6 131.6,348.3 133.0,343.9 129.3,341.3 133.9,341.3ZM140.0,338.4 141.4,342.7 146.0,342.7 142.3,345.4 143.7,349.8 140.0,347.1 136.3,349.8 137.7,345.4 134.0,342.7 138.6,342.7ZM144.7,339.8 146.1,344.2 150.7,344.2 147.0,346.9 148.4,351.2 144.7,348.5 141.0,351.2 142.4,346.9 138.7,344.2 143.3,344.2ZM149.4,340.8 150.8,345.2 155.4,345.2 151.7,347.8 153.1,352.2 149.4,349.5 145.7,352.2 147.1,347.8 143.4,345.2 148.0,345.2ZM154.1,341.8 155.5,346.1 160.1,346.1 156.4,348.8 157.8,353.2 154.1,350.5 150.4,353.2 151.8,348.8 148.1,346.1 152.7,346.1ZM158.8,342.7 160.2,347.1 164.8,347.1 161.1,349.8 162.5,354.1 158.8,351.5 155.1,354.1 156.5,349.8 152.8,347.1 157.4,347.1ZM163.5,343.7 164.9,348.1 169.5,348.1 165.8,350.8 167.2,355.1 163.5,352.4 159.8,355.1 161.2,350.8 157.5,348.1 162.1,348.1ZM168.2,345.2 169.6,349.5 174.2,349.5 170.5,352.2 171.9,356.6 168.2,353.9 164.5,356.6 165.9,352.2 162.2,349.5 166.8,349.5ZM172.9,346.6 174.3,351.0 178.9,351.0 175.2,353.7 176.6,358.0 172.9,355.4 169.2,358.0 170.6,353.7 166.9,351.0 171.5,351.0ZM177.6,348.1 179.0,352.5 183.6,352.5 179.9,355.2 181.3,359.5 177.6,356.8 173.9,359.5 175.3,355.2 171.6,352.5 176.2,352.5ZM182.3,349.6 183.7,353.9 188.3,353.9 184.6,356.6 186.0,361.0 182.3,358.3 178.6,361.0 180.0,356.6 176.3,353.9 180.9,353.9ZM187.0,351.0 188.4,355.4 193.0,355.4 189.3,358.1 190.7,362.4 187.0,359.7 183.3,362.4 184.7,358.1 181.0,355.4 185.6,355.4ZM191.7,352.5 193.1,356.8 197.7,356.8 194.0,359.5 195.4,363.9 191.7,361.2 188.0,363.9 189.4,359.5 185.7,356.8 190.3,356.8ZM196.4,353.8 197.8,358.1 202.4,358.1 198.7,360.8 200.1,365.2 196.4,362.5 192.7,365.2 194.1,360.8 190.4,358.1 195.0,358.1ZM201.1,355.1 202.5,359.4 207.1,359.4 203.4,362.1 204.8,366.5 201.1,363.8 197.4,366.5 198.8,362.1 195.1,359.4 199.7,359.4ZM205.8,356.4 207.2,360.7 211.8,360.7 208.1,363.4 209.5,367.8 205.8,365.1 202.1,367.8 203.5,363.4 199.8,360.7 204.4,360.7ZM210.5,357.7 211.9,362.0 216.5,362.0 212.8,364.7 214.2,369.1 210.5,366.4 206.8,369.1 208.2,364.7 204.5,362.0 209.1,362.0ZM215.2,359.0 216.6,363.3 221.2,363.3 217.5,366.0 218.9,370.4 215.2,367.7 211.5,370.4 212.9,366.0 209.2,363.3 213.8,363.3ZM219.9,360.3 221.3,364.6 225.9,364.6 222.2,367.3 223.6,371.7 219.9,369.0 216.2,371.7 217.6,367.3 213.9,364.6 218.5,364.6ZM224.6,361.3 226.0,365.6 230.6,365.6 226.9,368.3 228.3,372.7 224.6,370.0 220.9,372.7 222.3,368.3 218.6,365.6 223.2,365.6ZM229.3,362.2 230.7,366.6 235.3,366.6 231.6,369.3 233.0,373.6 229.3,370.9 225.6,373.6 227.0,369.3 223.3,366.6 227.9,366.6ZM234.0,363.2 235.4,367.6 240.0,367.6 236.3,370.2 237.7,374.6 234.0,371.9 230.3,374.6 231.7,370.2 228.0,367.6 232.6,367.6ZM238.7,363.9 240.1,368.3 244.7,368.3 241.0,371.0 242.4,375.3 238.7,372.6 235.0,375.3 236.4,371.0 232.7,368.3 237.3,368.3ZM243.4,364.7 244.8,369.0 249.4,369.0 245.7,371.7 247.1,376.1 243.4,373.4 239.7,376.1 241.1,371.7 237.4,369.0 242.0,369.0ZM248.1,365.4 249.5,369.7 254.1,369.7 250.4,372.4 251.8,376.8 248.1,374.1 244.4,376.8 245.8,372.4 242.1,369.7 246.7,369.7ZM252.8,366.1 254.2,370.5 258.8,370.5 255.1,373.2 256.5,377.5 252.8,374.8 249.1,377.5 250.5,373.2 246.8,370.5 251.4,370.5ZM257.5,366.2 258.9,370.5 263.5,370.5 259.8,373.2 261.2,377.6 257.5,374.9 253.8,377.6 255.2,373.2 251.5,370.5 256.1,370.5ZM262.2,366.3 263.6,370.7 268.2,370.7 264.5,373.4 265.9,377.7 262.2,375.0 258.5,377.7 259.9,373.4 256.2,370.7 260.8,370.7ZM266.9,366.4 268.3,370.8 272.9,370.8 269.2,373.5 270.6,377.8 266.9,375.1 263.2,377.8 264.6,373.5 260.9,370.8 265.5,370.8ZM271.6,366.1 273.0,370.5 277.6,370.5 273.9,373.1 275.3,377.5 271.6,374.8 267.9,377.5 269.3,373.1 265.6,370.5 270.2,370.5ZM276.3,366.1 277.7,370.5 282.3,370.5 278.6,373.2 280.0,377.5 276.3,374.8 272.6,377.5 274.0,373.2 270.3,370.5 274.9,370.5ZM281.0,366.1 282.4,370.4 287.0,370.4 283.3,373.1 284.7,377.5 281.0,374.8 277.3,377.5 278.7,373.1 275.0,370.4 279.6,370.4ZM285.7,365.3 287.1,369.6 291.7,369.6 288.0,372.3 289.4,376.7 285.7,374.0 282.0,376.7 283.4,372.3 279.7,369.6 284.3,369.6ZM290.4,364.9 291.8,369.3 296.4,369.3 292.7,372.0 294.1,376.3 290.4,373.6 286.7,376.3 288.1,372.0 284.4,369.3 289.0,369.3ZM295.1,365.1 296.5,369.5 301.1,369.5 297.4,372.2 298.8,376.5 295.1,373.8 291.4,376.5 292.8,372.2 289.1,369.5 293.7,369.5ZM299.8,364.6 301.2,368.9 305.8,368.9 302.1,371.6 303.5,376.0 299.8,373.3 296.1,376.0 297.5,371.6 293.8,368.9 298.4,368.9ZM304.5,364.5 305.9,368.9 310.5,368.9 306.8,371.6 308.2,375.9 304.5,373.3 300.8,375.9 302.2,371.6 298.5,368.9 303.1,368.9ZM309.2,363.9 310.6,368.3 315.2,368.3 311.5,371.0 312.9,375.3 309.2,372.6 305.5,375.3 306.9,371.0 303.2,368.3 307.8,368.3ZM313.9,363.9 315.3,368.2 319.9,368.2 316.2,370.9 317.6,375.3 313.9,372.6 310.2,375.3 311.6,370.9 307.9,368.2 312.5,368.2ZM318.6,363.5 320.0,367.9 324.6,367.9 320.9,370.6 322.3,374.9 318.6,372.3 314.9,374.9 316.3,370.6 312.6,367.9 317.2,367.9ZM323.3,363.6 324.7,367.9 329.3,367.9 325.6,370.6 327.0,375.0 323.3,372.3 319.6,375.0 321.0,370.6 317.3,367.9 321.9,367.9ZM328.0,363.4 329.4,367.8 334.0,367.8 330.3,370.5 331.7,374.8 328.0,372.1 324.3,374.8 325.7,370.5 322.0,367.8 326.6,367.8ZM332.7,363.3 334.1,367.7 338.7,367.7 335.0,370.4 336.4,374.7 332.7,372.0 329.0,374.7 330.4,370.4 326.7,367.7 331.3,367.7ZM337.4,362.9 338.8,367.3 343.4,367.3 339.7,370.0 341.1,374.3 337.4,371.6 333.7,374.3 335.1,370.0 331.4,367.3 336.0,367.3ZM342.1,362.3 343.5,366.6 348.1,366.6 344.4,369.3 345.8,373.7 342.1,371.0 338.4,373.7 339.8,369.3 336.1,366.6 340.7,366.6ZM346.8,362.2 348.2,366.6 352.8,366.6 349.1,369.3 350.5,373.6 346.8,370.9 343.1,373.6 344.5,369.3 340.8,366.6 345.4,366.6ZM351.5,362.1 352.9,366.4 357.5,366.4 353.8,369.1 355.2,373.5 351.5,370.8 347.8,373.5 349.2,369.1 345.5,366.4 350.1,366.4ZM356.2,361.7 357.6,366.1 362.2,366.1 358.5,368.7 359.9,373.1 356.2,370.4 352.5,373.1 353.9,368.7 350.2,366.1 354.8,366.1ZM360.9,361.3 362.3,365.6 366.9,365.6 363.2,368.3 364.6,372.7 360.9,370.0 357.2,372.7 358.6,368.3 354.9,365.6 359.5,365.6ZM365.6,360.8 367.0,365.2 371.6,365.2 367.9,367.8 369.3,372.2 365.6,369.5 361.9,372.2 363.3,367.8 359.6,365.2 364.2,365.2ZM370.3,360.3 371.7,364.6 376.3,364.6 372.6,367.3 374.0,371.7 370.3,369.0 366.6,371.7 368.0,367.3 364.3,364.6 368.9,364.6ZM375.0,359.7 376.4,364.1 381.0,364.1 377.3,366.7 378.7,371.1 375.0,368.4 371.3,371.1 372.7,366.7 369.0,364.1 373.6,364.1ZM379.7,359.3 381.1,363.6 385.7,363.6 382.0,366.3 383.4,370.7 379.7,368.0 376.0,370.7 377.4,366.3 373.7,363.6 378.3,363.6ZM384.4,358.4 385.8,362.7 390.4,362.7 386.7,365.4 388.1,369.8 384.4,367.1 380.7,369.8 382.1,365.4 378.4,362.7 383.0,362.7ZM389.1,358.5 390.5,362.9 395.1,362.9 391.4,365.5 392.8,369.9 389.1,367.2 385.4,369.9 386.8,365.5 383.1,362.9 387.7,362.9ZM393.8,357.7 395.2,362.1 399.8,362.1 396.1,364.8 397.5,369.1 393.8,366.5 390.1,369.1 391.5,364.8 387.8,362.1 392.4,362.1ZM398.5,357.7 399.9,362.1 404.5,362.1 400.8,364.8 402.2,369.1 398.5,366.5 394.8,369.1 396.2,364.8 392.5,362.1 397.1,362.1ZM403.2,357.4 404.6,361.7 409.2,361.7 405.5,364.4 406.9,368.8 403.2,366.1 399.5,368.8 400.9,364.4 397.2,361.7 401.8,361.7ZM407.9,355.8 409.3,360.2 413.9,360.2 410.2,362.8 411.6,367.2 407.9,364.5 404.2,367.2 405.6,362.8 401.9,360.2 406.5,360.2ZM412.6,356.3 414.0,360.6 418.6,360.6 414.9,363.3 416.3,367.7 412.6,365.0 408.9,367.7 410.3,363.3 406.6,360.6 411.2,360.6ZM417.3,356.0 418.7,360.3 423.3,360.3 419.6,363.0 421.0,367.4 417.3,364.7 413.6,367.4 415.0,363.0 411.3,360.3 415.9,360.3ZM422.0,355.0 423.4,359.3 428.0,359.3 424.3,362.0 425.7,366.4 422.0,363.7 418.3,366.4 419.7,362.0 416.0,359.3 420.6,359.3ZM426.7,354.6 428.1,359.0 432.7,359.0 429.0,361.7 430.4,366.0 426.7,363.3 423.0,366.0 424.4,361.7 420.7,359.0 425.3,359.0ZM431.4,354.6 432.8,359.0 437.4,359.0 433.7,361.7 435.1,366.0 431.4,363.3 427.7,366.0 429.1,361.7 425.4,359.0 430.0,359.0ZM436.1,355.0 437.5,359.4 442.1,359.4 438.4,362.1 439.8,366.4 436.1,363.7 432.4,366.4 433.8,362.1 430.1,359.4 434.7,359.4ZM440.8,356.6 442.2,360.9 446.8,360.9 443.1,363.6 444.5,368.0 440.8,365.3 437.1,368.0 438.5,363.6 434.8,360.9 439.4,360.9ZM445.5,356.6 446.9,360.9 451.5,360.9 447.8,363.6 449.2,368.0 445.5,365.3 441.8,368.0 443.2,363.6 439.5,360.9 444.1,360.9ZM450.2,357.4 451.6,361.7 456.2,361.7 452.5,364.4 453.9,368.8 450.2,366.1 446.5,368.8 447.9,364.4 444.2,361.7 448.8,361.7ZM454.9,358.5 456.3,362.9 460.9,362.9 457.2,365.6 458.6,369.9 454.9,367.2 451.2,369.9 452.6,365.6 448.9,362.9 453.5,362.9ZM459.6,358.9 461.0,363.3 465.6,363.3 461.9,366.0 463.3,370.3 459.6,367.6 455.9,370.3 457.3,366.0 453.6,363.3 458.2,363.3ZM464.3,357.7 465.7,362.1 470.3,362.1 466.6,364.8 468.0,369.1 464.3,366.5 460.6,369.1 462.0,364.8 458.3,362.1 462.9,362.1ZM469.0,357.7 470.4,362.1 475.0,362.1 471.3,364.8 472.7,369.1 469.0,366.5 465.3,369.1 466.7,364.8 463.0,362.1 467.6,362.1ZM473.7,356.6 475.1,360.9 479.7,360.9 476.0,363.6 477.4,368.0 473.7,365.3 470.0,368.0 471.4,363.6 467.7,360.9 472.3,360.9ZM478.4,356.3 479.8,360.6 484.4,360.6 480.7,363.3 482.1,367.7 478.4,365.0 474.7,367.7 476.1,363.3 472.4,360.6 477.0,360.6ZM483.1,356.6 484.5,360.9 489.1,360.9 485.4,363.6 486.8,368.0 483.1,365.3 479.4,368.0 480.8,363.6 477.1,360.9 481.7,360.9ZM487.8,355.2 489.2,359.6 493.8,359.6 490.1,362.3 491.5,366.6 487.8,363.9 484.1,366.6 485.5,362.3 481.8,359.6 486.4,359.6ZM492.5,354.8 493.9,359.1 498.5,359.1 494.8,361.8 496.2,366.2 492.5,363.5 488.8,366.2 490.2,361.8 486.5,359.1 491.1,359.1ZM497.2,355.1 498.6,359.5 503.2,359.5 499.5,362.2 500.9,366.5 497.2,363.8 493.5,366.5 494.9,362.2 491.2,359.5 495.8,359.5ZM501.9,355.0 503.3,359.4 507.9,359.4 504.2,362.1 505.6,366.4 501.9,363.7 498.2,366.4 499.6,362.1 495.9,359.4 500.5,359.4ZM506.6,354.4 508.0,358.8 512.6,358.8 508.9,361.5 510.3,365.8 506.6,363.1 502.9,365.8 504.3,361.5 500.6,358.8 505.2,358.8ZM511.3,354.0 512.7,358.3 517.3,358.3 513.6,361.0 515.0,365.4 511.3,362.7 507.6,365.4 509.0,361.0 505.3,358.3 509.9,358.3ZM516.0,354.2 517.4,358.6 522.0,358.6 518.3,361.3 519.7,365.6 516.0,362.9 512.3,365.6 513.7,361.3 510.0,358.6 514.6,358.6ZM520.7,353.3 522.1,357.6 526.7,357.6 523.0,360.3 524.4,364.7 520.7,362.0 517.0,364.7 518.4,360.3 514.7,357.6 519.3,357.6ZM525.4,354.6 526.8,359.0 531.4,359.0 527.7,361.7 529.1,366.0 525.4,363.3 521.7,366.0 523.1,361.7 519.4,359.0 524.0,359.0ZM530.1,354.8 531.5,359.2 536.1,359.2 532.4,361.9 533.8,366.2 530.1,363.5 526.4,366.2 527.8,361.9 524.1,359.2 528.7,359.2ZM534.8,356.0 536.2,360.4 540.8,360.4 537.1,363.1 538.5,367.4 534.8,364.7 531.1,367.4 532.5,363.1 528.8,360.4 533.4,360.4Z" fill="#000000" stroke="#000000" stroke-width="0.6" stroke-linejoin="round"/>
<path d="M69.5,48.5 74.2,103.0 78.9,155.6 83.6,162.4 88.3,184.8 93.0,205.1 97.7,247.2 102.4,270.5 107.1,286.1 111.8,297.8 116.5,313.4 121.2,325.1 125.9,334.8 130.6,342.6 135.3,344.6 140.0,345.5 144.7,346.5 149.4,347.5 154.1,348.4 158.8,349.9 163.5,351.4 168.2,352.3 172.9,353.3 177.6,354.8 182.3,356.2 187.0,357.7 191.7,359.2 196.4,360.5 201.1,361.8 205.8,363.1 210.5,364.4 215.2,365.7 219.9,367.0 224.6,367.9 229.3,368.9 234.0,369.9 238.7,370.4 243.4,370.8 248.1,371.3 252.8,371.8 257.5,371.6 262.2,371.4 266.9,371.2 271.6,371.1 276.3,371.0 281.0,370.8 285.7,370.3 290.4,369.7 295.1,369.1 299.8,368.5 304.5,367.9 309.2,367.2 313.9,366.5 318.6,365.9 323.3,365.2 328.0,364.6 332.7,363.9 337.4,363.3 342.1,362.7 346.8,362.1 351.5,361.5 356.2,360.9 360.9,360.3 365.6,359.7 370.3,359.2 375.0,358.6 379.7,358.1 384.4,357.6 389.1,357.0 393.8,356.5 398.5,355.3 403.2,355.7 407.9,355.5 412.6,354.5 417.3,354.3 422.0,353.9 426.7,353.3 431.4,352.7 436.1,352.1 440.8,354.5 445.5,354.1 450.2,355.5 454.9,354.5 459.6,354.1 464.3,354.7 469.0,353.9 473.7,353.3 478.4,352.0 483.1,354.9 487.8,351.2 492.5,352.7 497.2,349.2 501.9,352.5 506.6,355.1 511.3,354.7 516.0,352.0 520.7,349.8 525.4,348.4 530.1,351.2 534.8,354.0" fill="none" stroke="#000000" stroke-width="1.7" stroke-linejoin="round"/>
<path d="M69.5,42.7L74.7,51.3L64.3,51.3ZM74.2,97.2L79.4,105.8L69.0,105.8ZM78.9,149.8L84.1,158.4L73.8,158.4ZM83.6,156.6L88.8,165.3L78.4,165.3ZM88.3,179.0L93.5,187.7L83.1,187.7ZM93.0,199.3L98.2,207.9L87.8,207.9ZM97.7,241.4L102.8,250.0L92.5,250.0ZM102.4,264.7L107.6,273.4L97.2,273.4ZM107.1,280.3L112.2,289.0L101.9,289.0ZM111.8,292.0L117.0,300.7L106.6,300.7ZM116.5,307.6L121.7,316.2L111.3,316.2ZM121.2,319.3L126.4,327.9L116.0,327.9ZM125.9,329.0L131.1,337.7L120.8,337.7ZM130.6,336.8L135.8,345.5L125.4,345.5ZM135.3,338.8L140.5,347.4L130.2,347.4ZM140.0,339.7L145.2,348.4L134.8,348.4ZM144.7,340.7L149.8,349.4L139.5,349.4ZM149.4,341.7L154.6,350.3L144.2,350.3ZM154.1,342.6L159.2,351.3L148.9,351.3ZM158.8,344.1L164.0,352.8L153.7,352.8ZM163.5,345.6L168.7,354.2L158.3,354.2ZM168.2,346.5L173.3,355.2L163.0,355.2ZM172.9,347.5L178.1,356.2L167.8,356.2ZM177.6,349.0L182.8,357.6L172.5,357.6ZM182.3,350.4L187.5,359.1L177.2,359.1ZM187.0,351.9L192.2,360.6L181.8,360.6ZM191.7,353.4L196.8,362.0L186.5,362.0ZM196.4,354.7L201.5,363.3L191.2,363.3ZM201.1,356.0L206.3,364.6L196.0,364.6ZM205.8,357.3L211.0,365.9L200.7,365.9ZM210.5,358.6L215.7,367.2L205.3,367.2ZM215.2,359.9L220.3,368.5L210.0,368.5ZM219.9,361.2L225.0,369.8L214.7,369.8ZM224.6,362.1L229.8,370.8L219.5,370.8ZM229.3,363.1L234.5,371.8L224.2,371.8ZM234.0,364.1L239.2,372.7L228.8,372.7ZM238.7,364.6L243.8,373.2L233.5,373.2ZM243.4,365.0L248.5,373.7L238.2,373.7ZM248.1,365.5L253.3,374.2L243.0,374.2ZM252.8,366.0L257.9,374.7L247.7,374.7ZM257.5,365.8L262.6,374.5L252.3,374.5ZM262.2,365.6L267.3,374.3L257.1,374.3ZM266.9,365.4L272.0,374.1L261.8,374.1ZM271.6,365.3L276.8,374.0L266.5,374.0ZM276.3,365.2L281.4,373.8L271.2,373.8ZM281.0,365.0L286.1,373.7L275.9,373.7ZM285.7,364.5L290.8,373.1L280.6,373.1ZM290.4,363.9L295.6,372.5L285.3,372.5ZM295.1,363.3L300.2,371.9L290.0,371.9ZM299.8,362.7L304.9,371.4L294.7,371.4ZM304.5,362.1L309.6,370.7L299.4,370.7ZM309.2,361.4L314.3,370.0L304.1,370.0ZM313.9,360.7L319.1,369.4L308.8,369.4ZM318.6,360.1L323.8,368.7L313.5,368.7ZM323.3,359.4L328.4,368.1L318.2,368.1ZM328.0,358.8L333.1,367.4L322.9,367.4ZM332.7,358.1L337.9,366.8L327.6,366.8ZM337.4,357.5L342.6,366.1L332.3,366.1ZM342.1,356.9L347.2,365.5L337.0,365.5ZM346.8,356.3L351.9,364.9L341.7,364.9ZM351.5,355.7L356.6,364.3L346.4,364.3ZM356.2,355.1L361.4,363.8L351.1,363.8ZM360.9,354.5L366.1,363.2L355.8,363.2ZM365.6,353.9L370.8,362.6L360.5,362.6ZM370.3,353.4L375.4,362.0L365.2,362.0ZM375.0,352.8L380.1,361.4L369.9,361.4ZM379.7,352.3L384.9,360.9L374.6,360.9ZM384.4,351.8L389.6,360.4L379.3,360.4ZM389.1,351.2L394.2,359.9L384.0,359.9ZM393.8,350.7L398.9,359.4L388.7,359.4ZM398.5,349.5L403.6,358.1L393.4,358.1ZM403.2,349.9L408.4,358.5L398.1,358.5ZM407.9,349.7L413.1,358.3L402.8,358.3ZM412.6,348.7L417.8,357.3L407.5,357.3ZM417.3,348.5L422.4,357.1L412.2,357.1ZM422.0,348.1L427.1,356.8L416.9,356.8ZM426.7,347.5L431.9,356.2L421.6,356.2ZM431.4,346.9L436.6,355.6L426.3,355.6ZM436.1,346.3L441.2,355.0L431.0,355.0ZM440.8,348.7L445.9,357.3L435.7,357.3ZM445.5,348.3L450.6,356.9L440.4,356.9ZM450.2,349.7L455.4,358.3L445.1,358.3ZM454.9,348.7L460.1,357.3L449.8,357.3ZM459.6,348.3L464.8,356.9L454.5,356.9ZM464.3,348.9L469.4,357.5L459.2,357.5ZM469.0,348.1L474.1,356.8L463.9,356.8ZM473.7,347.5L478.9,356.2L468.6,356.2ZM478.4,346.2L483.6,354.8L473.3,354.8ZM483.1,349.1L488.2,357.7L478.0,357.7ZM487.8,345.4L492.9,354.0L482.7,354.0ZM492.5,346.9L497.6,355.6L487.4,355.6ZM497.2,343.4L502.4,352.1L492.1,352.1ZM501.9,346.7L507.1,355.4L496.8,355.4ZM506.6,349.3L511.8,357.9L501.5,357.9ZM511.3,348.9L516.5,357.5L506.2,357.5ZM516.0,346.2L521.1,354.8L510.9,354.8ZM520.7,344.0L525.9,352.7L515.6,352.7ZM525.4,342.6L530.5,351.3L520.2,351.3ZM530.1,345.4L535.2,354.0L525.0,354.0ZM534.8,348.2L539.9,356.9L529.6,356.9Z" fill="none" stroke="#000000" stroke-width="1.7" stroke-linejoin="round"/>
<path d="M69.5,56.2 74.2,77.7 78.9,93.3 83.6,99.1 88.3,103.0 93.0,103.0 97.7,104.0 102.4,104.9 107.1,104.9 111.8,104.9 116.5,254.9 121.2,274.4 125.9,284.2 130.6,292.0 135.3,294.9 140.0,297.8 144.7,299.7 149.4,301.7 154.1,305.6 158.8,311.4 163.5,317.3 168.2,323.1 172.9,330.9 177.6,338.7 182.3,345.5 187.0,350.4 191.7,354.3 196.4,358.2 201.1,360.6 205.8,363.1 210.5,364.5 215.2,366.0 219.9,367.4 224.6,368.9 229.3,370.4 234.0,371.8 238.7,372.3 243.4,372.8 248.1,373.3 252.8,373.8 257.5,374.8 262.2,375.2 266.9,375.3 271.6,376.1 276.3,376.7 281.0,377.1 285.7,376.6 290.4,377.4 295.1,378.0 299.8,378.1 304.5,378.5 309.2,377.7 313.9,378.3 318.6,378.0 323.3,378.4 328.0,378.6 332.7,378.9 337.4,378.4 342.1,378.0 346.8,378.4 351.5,378.8 356.2,377.9 360.9,377.6 365.6,377.7 370.3,378.1 375.0,377.4 379.7,378.2 384.4,377.3 389.1,376.4 393.8,375.9 398.5,377.9 403.2,379.4 407.9,379.0 412.6,380.2 417.3,379.6 422.0,379.9 426.7,379.9 431.4,379.6 436.1,379.6 440.8,380.0 445.5,379.8 450.2,378.1 454.9,378.0 459.6,377.7 464.3,377.2 469.0,376.7 473.7,375.8 478.4,375.7 483.1,375.6 487.8,374.2 492.5,374.3 497.2,373.2 501.9,373.2 506.6,372.8 511.3,371.8 516.0,371.9 520.7,370.1 525.4,370.3 530.1,368.8 534.8,368.3" fill="none" stroke="#00ffff" stroke-width="1.7" stroke-linejoin="round"/>
<path d="M69.5,50.5 70.9,54.9 75.5,54.9 71.8,57.6 73.2,61.9 69.5,59.3 65.8,61.9 67.2,57.6 63.5,54.9 68.1,54.9ZM74.2,72.0 75.6,76.3 80.2,76.3 76.5,79.0 77.9,83.4 74.2,80.7 70.5,83.4 71.9,79.0 68.2,76.3 72.8,76.3ZM78.9,87.6 80.3,91.9 84.9,91.9 81.2,94.6 82.6,99.0 78.9,96.3 75.2,99.0 76.6,94.6 72.9,91.9 77.5,91.9ZM83.6,93.4 85.0,97.8 89.6,97.8 85.9,100.4 87.3,104.8 83.6,102.1 79.9,104.8 81.3,100.4 77.6,97.8 82.2,97.8ZM88.3,97.3 89.7,101.7 94.3,101.7 90.6,104.3 92.0,108.7 88.3,106.0 84.6,108.7 86.0,104.3 82.3,101.7 86.9,101.7ZM93.0,97.3 94.4,101.7 99.0,101.7 95.3,104.3 96.7,108.7 93.0,106.0 89.3,108.7 90.7,104.3 87.0,101.7 91.6,101.7ZM97.7,98.3 99.1,102.6 103.7,102.6 100.0,105.3 101.4,109.7 97.7,107.0 94.0,109.7 95.4,105.3 91.7,102.6 96.3,102.6ZM102.4,99.2 103.8,103.6 108.4,103.6 104.7,106.3 106.1,110.6 102.4,108.0 98.7,110.6 100.1,106.3 96.4,103.6 101.0,103.6ZM107.1,99.2 108.5,103.6 113.1,103.6 109.4,106.3 110.8,110.6 107.1,108.0 103.4,110.6 104.8,106.3 101.1,103.6 105.7,103.6ZM111.8,99.2 113.2,103.6 117.8,103.6 114.1,106.3 115.5,110.6 111.8,108.0 108.1,110.6 109.5,106.3 105.8,103.6 110.4,103.6ZM116.5,249.2 117.9,253.6 122.5,253.6 118.8,256.3 120.2,260.6 116.5,258.0 112.8,260.6 114.2,256.3 110.5,253.6 115.1,253.6ZM121.2,268.7 122.6,273.1 127.2,273.1 123.5,275.8 124.9,280.1 121.2,277.4 117.5,280.1 118.9,275.8 115.2,273.1 119.8,273.1ZM125.9,278.5 127.3,282.8 131.9,282.8 128.2,285.5 129.6,289.9 125.9,287.2 122.2,289.9 123.6,285.5 119.9,282.8 124.5,282.8ZM130.6,286.3 132.0,290.6 136.6,290.6 132.9,293.3 134.3,297.7 130.6,295.0 126.9,297.7 128.3,293.3 124.6,290.6 129.2,290.6ZM135.3,289.2 136.7,293.5 141.3,293.5 137.6,296.2 139.0,300.6 135.3,297.9 131.6,300.6 133.0,296.2 129.3,293.5 133.9,293.5ZM140.0,292.1 141.4,296.5 146.0,296.5 142.3,299.1 143.7,303.5 140.0,300.8 136.3,303.5 137.7,299.1 134.0,296.5 138.6,296.5ZM144.7,294.0 146.1,298.4 150.7,298.4 147.0,301.1 148.4,305.4 144.7,302.8 141.0,305.4 142.4,301.1 138.7,298.4 143.3,298.4ZM149.4,296.0 150.8,300.4 155.4,300.4 151.7,303.0 153.1,307.4 149.4,304.7 145.7,307.4 147.1,303.0 143.4,300.4 148.0,300.4ZM154.1,299.9 155.5,304.2 160.1,304.2 156.4,306.9 157.8,311.3 154.1,308.6 150.4,311.3 151.8,306.9 148.1,304.2 152.7,304.2ZM158.8,305.7 160.2,310.1 164.8,310.1 161.1,312.8 162.5,317.1 158.8,314.4 155.1,317.1 156.5,312.8 152.8,310.1 157.4,310.1ZM163.5,311.6 164.9,315.9 169.5,315.9 165.8,318.6 167.2,323.0 163.5,320.3 159.8,323.0 161.2,318.6 157.5,315.9 162.1,315.9ZM168.2,317.4 169.6,321.8 174.2,321.8 170.5,324.5 171.9,328.8 168.2,326.1 164.5,328.8 165.9,324.5 162.2,321.8 166.8,321.8ZM172.9,325.2 174.3,329.6 178.9,329.6 175.2,332.3 176.6,336.6 172.9,333.9 169.2,336.6 170.6,332.3 166.9,329.6 171.5,329.6ZM177.6,333.0 179.0,337.4 183.6,337.4 179.9,340.1 181.3,344.4 177.6,341.7 173.9,344.4 175.3,340.1 171.6,337.4 176.2,337.4ZM182.3,339.8 183.7,344.2 188.3,344.2 184.6,346.9 186.0,351.2 182.3,348.5 178.6,351.2 180.0,346.9 176.3,344.2 180.9,344.2ZM187.0,344.7 188.4,349.1 193.0,349.1 189.3,351.7 190.7,356.1 187.0,353.4 183.3,356.1 184.7,351.7 181.0,349.1 185.6,349.1ZM191.7,348.6 193.1,352.9 197.7,352.9 194.0,355.6 195.4,360.0 191.7,357.3 188.0,360.0 189.4,355.6 185.7,352.9 190.3,352.9ZM196.4,352.5 197.8,356.8 202.4,356.8 198.7,359.5 200.1,363.9 196.4,361.2 192.7,363.9 194.1,359.5 190.4,356.8 195.0,356.8ZM201.1,354.9 202.5,359.3 207.1,359.3 203.4,362.0 204.8,366.3 201.1,363.6 197.4,366.3 198.8,362.0 195.1,359.3 199.7,359.3ZM205.8,357.4 207.2,361.7 211.8,361.7 208.1,364.4 209.5,368.8 205.8,366.1 202.1,368.8 203.5,364.4 199.8,361.7 204.4,361.7ZM210.5,358.8 211.9,363.2 216.5,363.2 212.8,365.9 214.2,370.2 210.5,367.5 206.8,370.2 208.2,365.9 204.5,363.2 209.1,363.2ZM215.2,360.3 216.6,364.6 221.2,364.6 217.5,367.3 218.9,371.7 215.2,369.0 211.5,371.7 212.9,367.3 209.2,364.6 213.8,364.6ZM219.9,361.7 221.3,366.1 225.9,366.1 222.2,368.8 223.6,373.1 219.9,370.4 216.2,373.1 217.6,368.8 213.9,366.1 218.5,366.1ZM224.6,363.2 226.0,367.6 230.6,367.6 226.9,370.2 228.3,374.6 224.6,371.9 220.9,374.6 222.3,370.2 218.6,367.6 223.2,367.6ZM229.3,364.7 230.7,369.0 235.3,369.0 231.6,371.7 233.0,376.1 229.3,373.4 225.6,376.1 227.0,371.7 223.3,369.0 227.9,369.0ZM234.0,366.1 235.4,370.5 240.0,370.5 236.3,373.2 237.7,377.5 234.0,374.8 230.3,377.5 231.7,373.2 228.0,370.5 232.6,370.5ZM238.7,366.6 240.1,371.0 244.7,371.0 241.0,373.7 242.4,378.0 238.7,375.3 235.0,378.0 236.4,373.7 232.7,371.0 237.3,371.0ZM243.4,367.1 244.8,371.5 249.4,371.5 245.7,374.1 247.1,378.5 243.4,375.8 239.7,378.5 241.1,374.1 237.4,371.5 242.0,371.5ZM248.1,367.6 249.5,371.9 254.1,371.9 250.4,374.6 251.8,379.0 248.1,376.3 244.4,379.0 245.8,374.6 242.1,371.9 246.7,371.9ZM252.8,368.1 254.2,372.4 258.8,372.4 255.1,375.1 256.5,379.5 252.8,376.8 249.1,379.5 250.5,375.1 246.8,372.4 251.4,372.4ZM257.5,369.1 258.9,373.5 263.5,373.5 259.8,376.1 261.2,380.5 257.5,377.8 253.8,380.5 255.2,376.1 251.5,373.5 256.1,373.5ZM262.2,369.5 263.6,373.9 268.2,373.9 264.5,376.6 265.9,380.9 262.2,378.2 258.5,380.9 259.9,376.6 256.2,373.9 260.8,373.9ZM266.9,369.6 268.3,374.0 272.9,374.0 269.2,376.6 270.6,381.0 266.9,378.3 263.2,381.0 264.6,376.6 260.9,374.0 265.5,374.0ZM271.6,370.4 273.0,374.7 277.6,374.7 273.9,377.4 275.3,381.8 271.6,379.1 267.9,381.8 269.3,377.4 265.6,374.7 270.2,374.7ZM276.3,371.0 277.7,375.3 282.3,375.3 278.6,378.0 280.0,382.4 276.3,379.7 272.6,382.4 274.0,378.0 270.3,375.3 274.9,375.3ZM281.0,371.4 282.4,375.7 287.0,375.7 283.3,378.4 284.7,382.8 281.0,380.1 277.3,382.8 278.7,378.4 275.0,375.7 279.6,375.7ZM285.7,370.9 287.1,375.3 291.7,375.3 288.0,378.0 289.4,382.3 285.7,379.6 282.0,382.3 283.4,378.0 279.7,375.3 284.3,375.3ZM290.4,371.7 291.8,376.0 296.4,376.0 292.7,378.7 294.1,383.1 290.4,380.4 286.7,383.1 288.1,378.7 284.4,376.0 289.0,376.0ZM295.1,372.3 296.5,376.7 301.1,376.7 297.4,379.3 298.8,383.7 295.1,381.0 291.4,383.7 292.8,379.3 289.1,376.7 293.7,376.7ZM299.8,372.4 301.2,376.7 305.8,376.7 302.1,379.4 303.5,383.8 299.8,381.1 296.1,383.8 297.5,379.4 293.8,376.7 298.4,376.7ZM304.5,372.8 305.9,377.1 310.5,377.1 306.8,379.8 308.2,384.2 304.5,381.5 300.8,384.2 302.2,379.8 298.5,377.1 303.1,377.1ZM309.2,372.0 310.6,376.4 315.2,376.4 311.5,379.1 312.9,383.4 309.2,380.7 305.5,383.4 306.9,379.1 303.2,376.4 307.8,376.4ZM313.9,372.6 315.3,377.0 319.9,377.0 316.2,379.7 317.6,384.0 313.9,381.3 310.2,384.0 311.6,379.7 307.9,377.0 312.5,377.0ZM318.6,372.3 320.0,376.6 324.6,376.6 320.9,379.3 322.3,383.7 318.6,381.0 314.9,383.7 316.3,379.3 312.6,376.6 317.2,376.6ZM323.3,372.7 324.7,377.1 329.3,377.1 325.6,379.8 327.0,384.1 323.3,381.5 319.6,384.1 321.0,379.8 317.3,377.1 321.9,377.1ZM328.0,373.0 329.4,377.3 334.0,377.3 330.3,380.0 331.7,384.3 328.0,381.7 324.3,384.3 325.7,380.0 322.0,377.3 326.6,377.3ZM332.7,373.2 334.1,377.5 338.7,377.5 335.0,380.2 336.4,384.6 332.7,381.9 329.0,384.6 330.4,380.2 326.7,377.5 331.3,377.5ZM337.4,372.7 338.8,377.1 343.4,377.1 339.7,379.7 341.1,384.1 337.4,381.4 333.7,384.1 335.1,379.7 331.4,377.1 336.0,377.1ZM342.1,372.3 343.5,376.7 348.1,376.7 344.4,379.4 345.8,383.7 342.1,381.0 338.4,383.7 339.8,379.4 336.1,376.7 340.7,376.7ZM346.8,372.7 348.2,377.1 352.8,377.1 349.1,379.8 350.5,384.1 346.8,381.5 343.1,384.1 344.5,379.8 340.8,377.1 345.4,377.1ZM351.5,373.1 352.9,377.5 357.5,377.5 353.8,380.2 355.2,384.5 351.5,381.8 347.8,384.5 349.2,380.2 345.5,377.5 350.1,377.5ZM356.2,372.2 357.6,376.5 362.2,376.5 358.5,379.2 359.9,383.6 356.2,380.9 352.5,383.6 353.9,379.2 350.2,376.5 354.8,376.5ZM360.9,371.9 362.3,376.3 366.9,376.3 363.2,379.0 364.6,383.3 360.9,380.6 357.2,383.3 358.6,379.0 354.9,376.3 359.5,376.3ZM365.6,372.0 367.0,376.4 371.6,376.4 367.9,379.1 369.3,383.4 365.6,380.7 361.9,383.4 363.3,379.1 359.6,376.4 364.2,376.4ZM370.3,372.4 371.7,376.7 376.3,376.7 372.6,379.4 374.0,383.8 370.3,381.1 366.6,383.8 368.0,379.4 364.3,376.7 368.9,376.7ZM375.0,371.7 376.4,376.0 381.0,376.0 377.3,378.7 378.7,383.1 375.0,380.4 371.3,383.1 372.7,378.7 369.0,376.0 373.6,376.0ZM379.7,372.5 381.1,376.9 385.7,376.9 382.0,379.6 383.4,383.9 379.7,381.2 376.0,383.9 377.4,379.6 373.7,376.9 378.3,376.9ZM384.4,371.6 385.8,375.9 390.4,375.9 386.7,378.6 388.1,383.0 384.4,380.3 380.7,383.0 382.1,378.6 378.4,375.9 383.0,375.9ZM389.1,370.7 390.5,375.1 395.1,375.1 391.4,377.8 392.8,382.1 389.1,379.4 385.4,382.1 386.8,377.8 383.1,375.1 387.7,375.1ZM393.8,370.2 395.2,374.6 399.8,374.6 396.1,377.3 397.5,381.6 393.8,378.9 390.1,381.6 391.5,377.3 387.8,374.6 392.4,374.6ZM398.5,372.2 399.9,376.5 404.5,376.5 400.8,379.2 402.2,383.6 398.5,380.9 394.8,383.6 396.2,379.2 392.5,376.5 397.1,376.5ZM403.2,373.7 404.6,378.1 409.2,378.1 405.5,380.8 406.9,385.1 403.2,382.4 399.5,385.1 400.9,380.8 397.2,378.1 401.8,378.1ZM407.9,373.3 409.3,377.6 413.9,377.6 410.2,380.3 411.6,384.7 407.9,382.0 404.2,384.7 405.6,380.3 401.9,377.6 406.5,377.6ZM412.6,374.5 414.0,378.8 418.6,378.8 414.9,381.5 416.3,385.9 412.6,383.2 408.9,385.9 410.3,381.5 406.6,378.8 411.2,378.8ZM417.3,373.9 418.7,378.3 423.3,378.3 419.6,381.0 421.0,385.3 417.3,382.6 413.6,385.3 415.0,381.0 411.3,378.3 415.9,378.3ZM422.0,374.2 423.4,378.6 428.0,378.6 424.3,381.3 425.7,385.6 422.0,382.9 418.3,385.6 419.7,381.3 416.0,378.6 420.6,378.6ZM426.7,374.2 428.1,378.6 432.7,378.6 429.0,381.3 430.4,385.6 426.7,382.9 423.0,385.6 424.4,381.3 420.7,378.6 425.3,378.6ZM431.4,373.9 432.8,378.2 437.4,378.2 433.7,380.9 435.1,385.3 431.4,382.6 427.7,385.3 429.1,380.9 425.4,378.2 430.0,378.2ZM436.1,373.9 437.5,378.3 442.1,378.3 438.4,381.0 439.8,385.3 436.1,382.6 432.4,385.3 433.8,381.0 430.1,378.3 434.7,378.3ZM440.8,374.3 442.2,378.7 446.8,378.7 443.1,381.4 444.5,385.7 440.8,383.0 437.1,385.7 438.5,381.4 434.8,378.7 439.4,378.7ZM445.5,374.1 446.9,378.5 451.5,378.5 447.8,381.2 449.2,385.5 445.5,382.8 441.8,385.5 443.2,381.2 439.5,378.5 444.1,378.5ZM450.2,372.4 451.6,376.7 456.2,376.7 452.5,379.4 453.9,383.8 450.2,381.1 446.5,383.8 447.9,379.4 444.2,376.7 448.8,376.7ZM454.9,372.3 456.3,376.6 460.9,376.6 457.2,379.3 458.6,383.7 454.9,381.0 451.2,383.7 452.6,379.3 448.9,376.6 453.5,376.6ZM459.6,372.0 461.0,376.3 465.6,376.3 461.9,379.0 463.3,383.4 459.6,380.7 455.9,383.4 457.3,379.0 453.6,376.3 458.2,376.3ZM464.3,371.5 465.7,375.9 470.3,375.9 466.6,378.6 468.0,382.9 464.3,380.2 460.6,382.9 462.0,378.6 458.3,375.9 462.9,375.9ZM469.0,371.0 470.4,375.3 475.0,375.3 471.3,378.0 472.7,382.4 469.0,379.7 465.3,382.4 466.7,378.0 463.0,375.3 467.6,375.3ZM473.7,370.1 475.1,374.5 479.7,374.5 476.0,377.2 477.4,381.5 473.7,378.8 470.0,381.5 471.4,377.2 467.7,374.5 472.3,374.5ZM478.4,370.0 479.8,374.4 484.4,374.4 480.7,377.1 482.1,381.4 478.4,378.7 474.7,381.4 476.1,377.1 472.4,374.4 477.0,374.4ZM483.1,369.9 484.5,374.3 489.1,374.3 485.4,377.0 486.8,381.3 483.1,378.6 479.4,381.3 480.8,377.0 477.1,374.3 481.7,374.3ZM487.8,368.5 489.2,372.8 493.8,372.8 490.1,375.5 491.5,379.9 487.8,377.2 484.1,379.9 485.5,375.5 481.8,372.8 486.4,372.8ZM492.5,368.6 493.9,372.9 498.5,372.9 494.8,375.6 496.2,380.0 492.5,377.3 488.8,380.0 490.2,375.6 486.5,372.9 491.1,372.9ZM497.2,367.5 498.6,371.8 503.2,371.8 499.5,374.5 500.9,378.9 497.2,376.2 493.5,378.9 494.9,374.5 491.2,371.8 495.8,371.8ZM501.9,367.5 503.3,371.9 507.9,371.9 504.2,374.6 505.6,378.9 501.9,376.3 498.2,378.9 499.6,374.6 495.9,371.9 500.5,371.9ZM506.6,367.1 508.0,371.4 512.6,371.4 508.9,374.1 510.3,378.5 506.6,375.8 502.9,378.5 504.3,374.1 500.6,371.4 505.2,371.4ZM511.3,366.1 512.7,370.5 517.3,370.5 513.6,373.2 515.0,377.5 511.3,374.8 507.6,377.5 509.0,373.2 505.3,370.5 509.9,370.5ZM516.0,366.2 517.4,370.5 522.0,370.5 518.3,373.2 519.7,377.6 516.0,374.9 512.3,377.6 513.7,373.2 510.0,370.5 514.6,370.5ZM520.7,364.4 522.1,368.8 526.7,368.8 523.0,371.5 524.4,375.8 520.7,373.1 517.0,375.8 518.4,371.5 514.7,368.8 519.3,368.8ZM525.4,364.6 526.8,368.9 531.4,368.9 527.7,371.6 529.1,376.0 525.4,373.3 521.7,376.0 523.1,371.6 519.4,368.9 524.0,368.9ZM530.1,363.1 531.5,367.5 536.1,367.5 532.4,370.2 533.8,374.5 530.1,371.8 526.4,374.5 527.8,370.2 524.1,367.5 528.7,367.5ZM534.8,362.6 536.2,367.0 540.8,367.0 537.1,369.7 538.5,374.0 534.8,371.3 531.1,374.0 532.5,369.7 528.8,367.0 533.4,367.0Z" fill="#00ffff" stroke="#00ffff" stroke-width="0.6" stroke-linejoin="round"/>
<path d="M69.5,40.7 74.2,71.8 78.9,89.4 83.6,97.2 88.3,101.1 93.0,102.0 97.7,103.0 102.4,103.0 107.1,103.0 111.8,104.9 116.5,243.3 121.2,250.1 125.9,258.8 130.6,268.6 135.3,275.4 140.0,283.2 144.7,288.1 149.4,292.0 154.1,295.9 158.8,299.7 163.5,307.5 168.2,316.3 172.9,326.0 177.6,336.8 182.3,345.5 187.0,350.4 191.7,353.3 196.4,356.2 201.1,358.7 205.8,361.1 210.5,363.1 215.2,365.0 219.9,366.5 224.6,367.9 229.3,369.4 234.0,370.8 238.7,371.8 243.4,372.8 248.1,373.8 252.8,374.7 257.5,375.9 262.2,376.3 266.9,377.3 271.6,378.0 276.3,378.6 281.0,379.0 285.7,379.0 290.4,379.3 295.1,379.7 299.8,379.8 304.5,380.2 309.2,380.1 313.9,380.3 318.6,379.9 323.3,380.0 328.0,379.8 332.7,380.1 337.4,380.4 342.1,380.3 346.8,380.0 351.5,380.1 356.2,379.9 360.9,379.7 365.6,380.1 370.3,380.0 375.0,379.7 379.7,379.8 384.4,380.0 389.1,380.0 393.8,379.8 398.5,382.0 403.2,382.0 407.9,381.9 412.6,382.2 417.3,382.1 422.0,382.0 426.7,382.2 431.4,382.4 436.1,382.1 440.8,382.9 445.5,382.3 450.2,380.6 454.9,380.0 459.6,379.4 464.3,379.0 469.0,378.8 473.7,377.8 478.4,377.1 483.1,376.5 487.8,375.7 492.5,374.8 497.2,374.3 501.9,374.2 506.6,373.8 511.3,372.9 516.0,372.8 520.7,372.1 525.4,372.3 530.1,371.7 534.8,371.2" fill="none" stroke="#00ffff" stroke-width="1.7" stroke-linejoin="round"/>
<path d="M69.5,34.9L74.7,43.5L64.3,43.5ZM74.2,66.0L79.4,74.7L69.0,74.7ZM78.9,83.6L84.1,92.2L73.8,92.2ZM83.6,91.4L88.8,100.0L78.4,100.0ZM88.3,95.3L93.5,103.9L83.1,103.9ZM93.0,96.2L98.2,104.9L87.8,104.9ZM97.7,97.2L102.8,105.8L92.5,105.8ZM102.4,97.2L107.6,105.8L97.2,105.8ZM107.1,97.2L112.2,105.8L101.9,105.8ZM111.8,99.1L117.0,107.8L106.6,107.8ZM116.5,237.5L121.7,246.1L111.3,246.1ZM121.2,244.3L126.4,252.9L116.0,252.9ZM125.9,253.0L131.1,261.7L120.8,261.7ZM130.6,262.8L135.8,271.4L125.4,271.4ZM135.3,269.6L140.5,278.2L130.2,278.2ZM140.0,277.4L145.2,286.0L134.8,286.0ZM144.7,282.3L149.8,290.9L139.5,290.9ZM149.4,286.2L154.6,294.8L144.2,294.8ZM154.1,290.1L159.2,298.7L148.9,298.7ZM158.8,293.9L164.0,302.6L153.7,302.6ZM163.5,301.7L168.7,310.4L158.3,310.4ZM168.2,310.5L173.3,319.2L163.0,319.2ZM172.9,320.2L178.1,328.9L167.8,328.9ZM177.6,331.0L182.8,339.6L172.5,339.6ZM182.3,339.7L187.5,348.4L177.2,348.4ZM187.0,344.6L192.2,353.2L181.8,353.2ZM191.7,347.5L196.8,356.2L186.5,356.2ZM196.4,350.4L201.5,359.1L191.2,359.1ZM201.1,352.9L206.3,361.5L196.0,361.5ZM205.8,355.3L211.0,364.0L200.7,364.0ZM210.5,357.3L215.7,365.9L205.3,365.9ZM215.2,359.2L220.3,367.9L210.0,367.9ZM219.9,360.7L225.0,369.3L214.7,369.3ZM224.6,362.1L229.8,370.8L219.5,370.8ZM229.3,363.6L234.5,372.2L224.2,372.2ZM234.0,365.0L239.2,373.7L228.8,373.7ZM238.7,366.0L243.8,374.7L233.5,374.7ZM243.4,367.0L248.5,375.6L238.2,375.6ZM248.1,368.0L253.3,376.6L243.0,376.6ZM252.8,368.9L257.9,377.6L247.7,377.6ZM257.5,370.1L262.6,378.8L252.3,378.8ZM262.2,370.5L267.3,379.2L257.1,379.2ZM266.9,371.5L272.0,380.1L261.8,380.1ZM271.6,372.2L276.8,380.9L266.5,380.9ZM276.3,372.8L281.4,381.5L271.2,381.5ZM281.0,373.2L286.1,381.9L275.9,381.9ZM285.7,373.2L290.8,381.8L280.6,381.8ZM290.4,373.5L295.6,382.1L285.3,382.1ZM295.1,373.9L300.2,382.6L290.0,382.6ZM299.8,374.0L304.9,382.7L294.7,382.7ZM304.5,374.4L309.6,383.0L299.4,383.0ZM309.2,374.3L314.3,382.9L304.1,382.9ZM313.9,374.5L319.1,383.1L308.8,383.1ZM318.6,374.1L323.8,382.8L313.5,382.8ZM323.3,374.2L328.4,382.9L318.2,382.9ZM328.0,374.0L333.1,382.6L322.9,382.6ZM332.7,374.3L337.9,383.0L327.6,383.0ZM337.4,374.6L342.6,383.3L332.3,383.3ZM342.1,374.5L347.2,383.2L337.0,383.2ZM346.8,374.2L351.9,382.9L341.7,382.9ZM351.5,374.3L356.6,383.0L346.4,383.0ZM356.2,374.1L361.4,382.8L351.1,382.8ZM360.9,373.9L366.1,382.6L355.8,382.6ZM365.6,374.3L370.8,383.0L360.5,383.0ZM370.3,374.2L375.4,382.9L365.2,382.9ZM375.0,373.9L380.1,382.5L369.9,382.5ZM379.7,374.0L384.9,382.7L374.6,382.7ZM384.4,374.2L389.6,382.8L379.3,382.8ZM389.1,374.2L394.2,382.8L384.0,382.8ZM393.8,374.0L398.9,382.7L388.7,382.7ZM398.5,376.2L403.6,384.8L393.4,384.8ZM403.2,376.2L408.4,384.9L398.1,384.9ZM407.9,376.1L413.1,384.7L402.8,384.7ZM412.6,376.4L417.8,385.0L407.5,385.0ZM417.3,376.3L422.4,385.0L412.2,385.0ZM422.0,376.2L427.1,384.8L416.9,384.8ZM426.7,376.4L431.9,385.0L421.6,385.0ZM431.4,376.6L436.6,385.2L426.3,385.2ZM436.1,376.3L441.2,385.0L431.0,385.0ZM440.8,377.1L445.9,385.8L435.7,385.8ZM445.5,376.5L450.6,385.2L440.4,385.2ZM450.2,374.8L455.4,383.4L445.1,383.4ZM454.9,374.2L460.1,382.9L449.8,382.9ZM459.6,373.6L464.8,382.2L454.5,382.2ZM464.3,373.2L469.4,381.9L459.2,381.9ZM469.0,373.0L474.1,381.6L463.9,381.6ZM473.7,372.0L478.9,380.7L468.6,380.7ZM478.4,371.3L483.6,379.9L473.3,379.9ZM483.1,370.7L488.2,379.3L478.0,379.3ZM487.8,369.9L492.9,378.6L482.7,378.6ZM492.5,369.0L497.6,377.7L487.4,377.7ZM497.2,368.5L502.4,377.1L492.1,377.1ZM501.9,368.4L507.1,377.0L496.8,377.0ZM506.6,368.0L511.8,376.7L501.5,376.7ZM511.3,367.1L516.5,375.7L506.2,375.7ZM516.0,367.0L521.1,375.6L510.9,375.6ZM520.7,366.3L525.9,375.0L515.6,375.0ZM525.4,366.5L530.5,375.1L520.2,375.1ZM530.1,365.9L535.2,374.5L525.0,374.5ZM534.8,365.4L539.9,374.1L529.6,374.1Z" fill="none" stroke="#00ffff" stroke-width="1.7" stroke-linejoin="round"/>
<path d="M111.8,395.6V390.9M111.8,6.6V11.3M158.8,395.6V390.9M158.8,6.6V11.3M205.8,395.6V390.9M205.8,6.6V11.3M252.8,395.6V390.9M252.8,6.6V11.3M299.8,395.6V390.9M299.8,6.6V11.3M346.8,395.6V390.9M346.8,6.6V11.3M393.8,395.6V390.9M393.8,6.6V11.3M440.8,395.6V390.9M440.8,6.6V11.3M487.8,395.6V390.9M487.8,6.6V11.3M534.8,395.6V390.9M534.8,6.6V11.3M67.0,395.2H71.7M537.3,395.2H532.6M67.0,356.2H71.7M537.3,356.2H532.6M67.0,317.3H71.7M537.3,317.3H532.6M67.0,278.3H71.7M537.3,278.3H532.6M67.0,239.4H71.7M537.3,239.4H532.6M67.0,200.4H71.7M537.3,200.4H532.6M67.0,161.4H71.7M537.3,161.4H532.6M67.0,122.5H71.7M537.3,122.5H532.6M67.0,83.5H71.7M537.3,83.5H532.6M67.0,44.6H71.7M537.3,44.6H532.6" stroke="#262626" stroke-width="1" fill="none"/>
<rect x="67.0" y="6.6" width="470.3" height="389.0" fill="none" stroke="#262626" stroke-width="1.1"/>
<text x="111.8" y="416.8" font-family="Liberation Sans, Arial, sans-serif" stroke="#262626" stroke-width="0.3" font-size="14.5" fill="#262626" text-anchor="middle">10</text>
<text x="158.8" y="416.8" font-family="Liberation Sans, Arial, sans-serif" stroke="#262626" stroke-width="0.3" font-size="14.5" fill="#262626" text-anchor="middle">20</text>
<text x="205.8" y="416.8" font-family="Liberation Sans, Arial, sans-serif" stroke="#262626" stroke-width="0.3" font-size="14.5" fill="#262626" text-anchor="middle">30</text>
<text x="252.8" y="416.8" font-family="Liberation Sans, Arial, sans-serif" stroke="#262626" stroke-width="0.3" font-size="14.5" fill="#262626" text-anchor="middle">40</text>
<text x="299.8" y="416.8" font-family="Liberation Sans, Arial, sans-serif" stroke="#262626" stroke-width="0.3" font-size="14.5" fill="#262626" text-anchor="middle">50</text>
<text x="346.8" y="416.8" font-family="Liberation Sans, Arial, sans-serif" stroke="#262626" stroke-width="0.3" font-size="14.5" fill="#262626" text-anchor="middle">60</text>
<text x="393.8" y="416.8" font-family="Liberation Sans, Arial, sans-serif" stroke="#262626" stroke-width="0.3" font-size="14.5" fill="#262626" text-anchor="middle">70</text>
<text x="440.8" y="416.8" font-family="Liberation Sans, Arial, sans-serif" stroke="#262626" stroke-width="0.3" font-size="14.5" fill="#262626" text-anchor="middle">80</text>
<text x="487.8" y="416.8" font-family="Liberation Sans, Arial, sans-serif" stroke="#262626" stroke-width="0.3" font-size="14.5" fill="#262626" text-anchor="middle">90</text>
<text x="534.8" y="416.8" font-family="Liberation Sans, Arial, sans-serif" stroke="#262626" stroke-width="0.3" font-size="14.5" fill="#262626" text-anchor="middle">100</text>
<text x="59.8" y="400.7" font-family="Liberation Sans, Arial, sans-serif" stroke="#262626" stroke-width="0.3" font-size="14" fill="#262626" text-anchor="end">0</text>
<text x="59.8" y="361.7" font-family="Liberation Sans, Arial, sans-serif" stroke="#262626" stroke-width="0.3" font-size="14" fill="#262626" text-anchor="end">20</text>
<text x="59.8" y="322.8" font-family="Liberation Sans, Arial, sans-serif" stroke="#262626" stroke-width="0.3" font-size="14" fill="#262626" text-anchor="end">40</text>
<text x="59.8" y="283.8" font-family="Liberation Sans, Arial, sans-serif" stroke="#262626" stroke-width="0.3" font-size="14" fill="#262626" text-anchor="end">60</text>
<text x="59.8" y="244.9" font-family="Liberation Sans, Arial, sans-serif" stroke="#262626" stroke-width="0.3" font-size="14" fill="#262626" text-anchor="end">80</text>
<text x="59.8" y="205.9" font-family="Liberation Sans, Arial, sans-serif" stroke="#262626" stroke-width="0.3" font-size="14" fill="#262626" text-anchor="end">100</text>
<text x="59.8" y="166.9" font-family="Liberation Sans, Arial, sans-serif" stroke="#262626" stroke-width="0.3" font-size="14" fill="#262626" text-anchor="end">120</text>
<text x="59.8" y="128.0" font-family="Liberation Sans, Arial, sans-serif" stroke="#262626" stroke-width="0.3" font-size="14" fill="#262626" text-anchor="end">140</text>
<text x="59.8" y="89.0" font-family="Liberation Sans, Arial, sans-serif" stroke="#262626" stroke-width="0.3" font-size="14" fill="#262626" text-anchor="end">160</text>
<text x="59.8" y="50.1" font-family="Liberation Sans, Arial, sans-serif" stroke="#262626" stroke-width="0.3" font-size="14" fill="#262626" text-anchor="end">180</text>
<text x="301.5" y="441.8" font-family="Liberation Serif, Times New Roman, serif" stroke="#000" stroke-width="0.12" font-size="20" fill="#000" text-anchor="middle" textLength="64.5" lengthAdjust="spacingAndGlyphs">Time(s)</text>
<text transform="translate(20.5,202.4) rotate(-90)" font-family="Liberation Serif, Times New Roman, serif" stroke="#000" stroke-width="0.08" font-size="20" fill="#000" text-anchor="middle" textLength="100.5" lengthAdjust="spacingAndGlyphs">RMSE(m/s)</text>
<rect x="119.0" y="13.3" width="188.5" height="197.4" fill="#fff" stroke="#262626" stroke-width="1.1"/>
<path d="M123.1,26.8H166.7" stroke="#0000ff" stroke-width="1.8"/>
<path d="M145.0,21.1 146.4,25.5 151.0,25.5 147.3,28.1 148.7,32.5 145.0,29.8 141.3,32.5 142.7,28.1 139.0,25.5 143.6,25.5Z" fill="#0000ff" stroke="#0000ff" stroke-width="0.6" stroke-linejoin="round"/>
<text x="170.6" y="31.2" font-family="Liberation Serif, Times New Roman, serif" stroke="#000" stroke-width="0.25" font-size="16" fill="#000" textLength="129.2" lengthAdjust="spacingAndGlyphs">Target1-vel-JRPBA</text>
<path d="M123.1,51.0H166.7" stroke="#0000ff" stroke-width="1.8"/>
<path d="M145.0,45.2L150.2,53.9L139.8,53.9Z" fill="none" stroke="#0000ff" stroke-width="1.8" stroke-linejoin="round"/>
<text x="170.6" y="55.4" font-family="Liberation Serif, Times New Roman, serif" stroke="#000" stroke-width="0.25" font-size="16" fill="#000" textLength="76.6" lengthAdjust="spacingAndGlyphs">Target1-vel</text>
<path d="M123.1,75.3H166.7" stroke="#ff0000" stroke-width="1.8"/>
<path d="M145.0,69.6 146.4,74.0 151.0,74.0 147.3,76.6 148.7,81.0 145.0,78.3 141.3,81.0 142.7,76.6 139.0,74.0 143.6,74.0Z" fill="#ff0000" stroke="#ff0000" stroke-width="0.6" stroke-linejoin="round"/>
<text x="170.6" y="79.7" font-family="Liberation Serif, Times New Roman, serif" stroke="#000" stroke-width="0.25" font-size="16" fill="#000" textLength="129.2" lengthAdjust="spacingAndGlyphs">Target2-vel-JRPBA</text>
<path d="M123.1,99.6H166.7" stroke="#ff0000" stroke-width="1.8"/>
<path d="M145.0,93.8L150.2,102.4L139.8,102.4Z" fill="none" stroke="#ff0000" stroke-width="1.8" stroke-linejoin="round"/>
<text x="170.6" y="104.0" font-family="Liberation Serif, Times New Roman, serif" stroke="#000" stroke-width="0.25" font-size="16" fill="#000" textLength="76.6" lengthAdjust="spacingAndGlyphs">Target2-vel</text>
<path d="M123.1,123.8H166.7" stroke="#000000" stroke-width="1.8"/>
<path d="M145.0,118.1 146.4,122.5 151.0,122.5 147.3,125.1 148.7,129.5 145.0,126.8 141.3,129.5 142.7,125.1 139.0,122.5 143.6,122.5Z" fill="#000000" stroke="#000000" stroke-width="0.6" stroke-linejoin="round"/>
<text x="170.6" y="128.2" font-family="Liberation Serif, Times New Roman, serif" stroke="#000" stroke-width="0.25" font-size="16" fill="#000" textLength="129.2" lengthAdjust="spacingAndGlyphs">Target3-vel-JRPBA</text>
<path d="M123.1,148.0H166.7" stroke="#000000" stroke-width="1.8"/>
<path d="M145.0,142.2L150.2,150.8L139.8,150.8Z" fill="none" stroke="#000000" stroke-width="1.8" stroke-linejoin="round"/>
<text x="170.6" y="152.4" font-family="Liberation Serif, Times New Roman, serif" stroke="#000" stroke-width="0.25" font-size="16" fill="#000" textLength="76.6" lengthAdjust="spacingAndGlyphs">Target3-vel</text>
<path d="M123.1,172.2H166.7" stroke="#00ffff" stroke-width="1.8"/>
<path d="M145.0,166.5 146.4,170.9 151.0,170.9 147.3,173.5 148.7,177.9 145.0,175.2 141.3,177.9 142.7,173.5 139.0,170.9 143.6,170.9Z" fill="#00ffff" stroke="#00ffff" stroke-width="0.6" stroke-linejoin="round"/>
<text x="170.6" y="176.6" font-family="Liberation Serif, Times New Roman, serif" stroke="#000" stroke-width="0.25" font-size="16" fill="#000" textLength="129.2" lengthAdjust="spacingAndGlyphs">Target4-vel-JRPBA</text>
<path d="M123.1,196.4H166.7" stroke="#00ffff" stroke-width="1.8"/>
<path d="M145.0,190.6L150.2,199.2L139.8,199.2Z" fill="none" stroke="#00ffff" stroke-width="1.8" stroke-linejoin="round"/>
<text x="170.6" y="200.8" font-family="Liberation Serif, Times New Roman, serif" stroke="#000" stroke-width="0.25" font-size="16" fill="#000" textLength="76.6" lengthAdjust="spacingAndGlyphs">Target4-vel</text>
<rect x="328.0" y="15.5" width="197.1" height="226.7" fill="#fff"/>
<path d="M331.4,15.5V242.2M394.4,15.5V242.2M457.4,15.5V242.2M520.4,15.5V242.2M328.0,223.0H525.1M328.0,178.3H525.1M328.0,133.6H525.1M328.0,88.9H525.1M328.0,44.2H525.1" stroke="#e3e3e3" stroke-width="1" fill="none"/>
<path d="M325.1,154.7 331.4,151.5 337.7,150.1 344.0,151.0 350.3,151.5 356.6,153.1 362.9,155.2 369.2,153.3 375.5,152.6 381.8,155.9 388.1,158.3 394.4,160.4 400.7,162.8 407.0,167.6 413.3,166.4 419.6,169.4 425.9,169.1 432.2,171.1 438.5,168.4 444.8,170.3 451.1,169.5 457.4,167.6 463.7,164.2 470.0,164.0 476.3,163.1 482.6,159.3 488.9,160.4 495.2,156.9 501.5,159.6 507.8,155.9 514.1,157.5 520.4,155.1" fill="none" stroke="#0000ff" stroke-width="1.7" stroke-linejoin="round" clip-path="url(#ci)"/>
<path d="M331.4,145.8 332.8,150.1 337.4,150.1 333.7,152.8 335.1,157.2 331.4,154.5 327.7,157.2 329.1,152.8 325.4,150.1 330.0,150.1ZM337.7,144.4 339.1,148.7 343.7,148.7 340.0,151.4 341.4,155.8 337.7,153.1 334.0,155.8 335.4,151.4 331.7,148.7 336.3,148.7ZM344.0,145.3 345.4,149.6 350.0,149.6 346.3,152.3 347.7,156.7 344.0,154.0 340.3,156.7 341.7,152.3 338.0,149.6 342.6,149.6ZM350.3,145.8 351.7,150.1 356.3,150.1 352.6,152.8 354.0,157.2 350.3,154.5 346.6,157.2 348.0,152.8 344.3,150.1 348.9,150.1ZM356.6,147.4 358.0,151.8 362.6,151.8 358.9,154.5 360.3,158.8 356.6,156.2 352.9,158.8 354.3,154.5 350.6,151.8 355.2,151.8ZM362.9,149.5 364.3,153.8 368.9,153.8 365.2,156.5 366.6,160.9 362.9,158.2 359.2,160.9 360.6,156.5 356.9,153.8 361.5,153.8ZM369.2,147.6 370.6,151.9 375.2,151.9 371.5,154.6 372.9,159.0 369.2,156.3 365.5,159.0 366.9,154.6 363.2,151.9 367.8,151.9ZM375.5,146.9 376.9,151.3 381.5,151.3 377.8,154.0 379.2,158.3 375.5,155.7 371.8,158.3 373.2,154.0 369.5,151.3 374.1,151.3ZM381.8,150.3 383.2,154.6 387.8,154.6 384.1,157.3 385.5,161.6 381.8,159.0 378.1,161.6 379.5,157.3 375.8,154.6 380.4,154.6ZM388.1,152.6 389.5,157.0 394.1,157.0 390.4,159.7 391.8,164.0 388.1,161.3 384.4,164.0 385.8,159.7 382.1,157.0 386.7,157.0ZM394.4,154.7 395.8,159.1 400.4,159.1 396.7,161.8 398.1,166.1 394.4,163.4 390.7,166.1 392.1,161.8 388.4,159.1 393.0,159.1ZM400.7,157.1 402.1,161.5 406.7,161.5 403.0,164.2 404.4,168.5 400.7,165.8 397.0,168.5 398.4,164.2 394.7,161.5 399.3,161.5ZM407.0,161.9 408.4,166.2 413.0,166.2 409.3,168.9 410.7,173.3 407.0,170.6 403.3,173.3 404.7,168.9 401.0,166.2 405.6,166.2ZM413.3,160.7 414.7,165.1 419.3,165.1 415.6,167.8 417.0,172.1 413.3,169.4 409.6,172.1 411.0,167.8 407.3,165.1 411.9,165.1ZM419.6,163.7 421.0,168.0 425.6,168.0 421.9,170.7 423.3,175.1 419.6,172.4 415.9,175.1 417.3,170.7 413.6,168.0 418.2,168.0ZM425.9,163.4 427.3,167.8 431.9,167.8 428.2,170.5 429.6,174.8 425.9,172.1 422.2,174.8 423.6,170.5 419.9,167.8 424.5,167.8ZM432.2,165.4 433.6,169.8 438.2,169.8 434.5,172.5 435.9,176.8 432.2,174.2 428.5,176.8 429.9,172.5 426.2,169.8 430.8,169.8ZM438.5,162.7 439.9,167.1 444.5,167.1 440.8,169.8 442.2,174.1 438.5,171.5 434.8,174.1 436.2,169.8 432.5,167.1 437.1,167.1ZM444.8,164.6 446.2,168.9 450.8,168.9 447.1,171.6 448.5,176.0 444.8,173.3 441.1,176.0 442.5,171.6 438.8,168.9 443.4,168.9ZM451.1,163.8 452.5,168.1 457.1,168.1 453.4,170.8 454.8,175.2 451.1,172.5 447.4,175.2 448.8,170.8 445.1,168.1 449.7,168.1ZM457.4,161.9 458.8,166.2 463.4,166.2 459.7,168.9 461.1,173.3 457.4,170.6 453.7,173.3 455.1,168.9 451.4,166.2 456.0,166.2ZM463.7,158.5 465.1,162.8 469.7,162.8 466.0,165.5 467.4,169.9 463.7,167.2 460.0,169.9 461.4,165.5 457.7,162.8 462.3,162.8ZM470.0,158.3 471.4,162.7 476.0,162.7 472.3,165.3 473.7,169.7 470.0,167.0 466.3,169.7 467.7,165.3 464.0,162.7 468.6,162.7ZM476.3,157.4 477.7,161.8 482.3,161.8 478.6,164.4 480.0,168.8 476.3,166.1 472.6,168.8 474.0,164.4 470.3,161.8 474.9,161.8ZM482.6,153.6 484.0,157.9 488.6,157.9 484.9,160.6 486.3,165.0 482.6,162.3 478.9,165.0 480.3,160.6 476.6,157.9 481.2,157.9ZM488.9,154.7 490.3,159.1 494.9,159.1 491.2,161.8 492.6,166.1 488.9,163.4 485.2,166.1 486.6,161.8 482.9,159.1 487.5,159.1ZM495.2,151.2 496.6,155.6 501.2,155.6 497.5,158.2 498.9,162.6 495.2,159.9 491.5,162.6 492.9,158.2 489.2,155.6 493.8,155.6ZM501.5,153.9 502.9,158.3 507.5,158.3 503.8,160.9 505.2,165.3 501.5,162.6 497.8,165.3 499.2,160.9 495.5,158.3 500.1,158.3ZM507.8,150.3 509.2,154.6 513.8,154.6 510.1,157.3 511.5,161.6 507.8,159.0 504.1,161.6 505.5,157.3 501.8,154.6 506.4,154.6ZM514.1,151.8 515.5,156.1 520.1,156.1 516.4,158.8 517.8,163.2 514.1,160.5 510.4,163.2 511.8,158.8 508.1,156.1 512.7,156.1ZM520.4,149.4 521.8,153.7 526.4,153.7 522.7,156.4 524.1,160.8 520.4,158.1 516.7,160.8 518.1,156.4 514.4,153.7 519.0,153.7Z" fill="#0000ff" stroke="#0000ff" stroke-width="0.6" stroke-linejoin="round"/>
<path d="M325.1,148.6 331.4,147.9 337.7,147.1 344.0,147.0 350.3,145.5 356.6,141.6 362.9,142.6 369.2,139.0 375.5,140.8 381.8,144.3 388.1,145.1 394.4,149.7 400.7,162.2 407.0,162.3 413.3,167.6 419.6,172.9 425.9,173.8 432.2,172.8 438.5,175.5 444.8,175.6 451.1,176.2 457.4,172.9 463.7,172.3 470.0,169.4 476.3,166.1 482.6,163.8 488.9,164.0 495.2,165.2 501.5,161.0 507.8,160.4 514.1,161.5 520.4,157.7" fill="none" stroke="#0000ff" stroke-width="1.7" stroke-linejoin="round" clip-path="url(#ci)"/>
<path d="M331.4,142.1L336.5,150.8L326.2,150.8ZM337.7,141.3L342.8,149.9L332.6,149.9ZM344.0,141.2L349.1,149.9L338.9,149.9ZM350.3,139.7L355.4,148.3L345.1,148.3ZM356.6,135.8L361.7,144.5L351.4,144.5ZM362.9,136.8L368.0,145.5L357.8,145.5ZM369.2,133.2L374.3,141.8L364.1,141.8ZM375.5,135.0L380.6,143.6L370.4,143.6ZM381.8,138.5L386.9,147.2L376.6,147.2ZM388.1,139.3L393.2,148.0L382.9,148.0ZM394.4,143.9L399.5,152.5L389.2,152.5ZM400.7,156.4L405.8,165.1L395.6,165.1ZM407.0,156.5L412.1,165.1L401.9,165.1ZM413.3,161.8L418.4,170.4L408.1,170.4ZM419.6,167.1L424.7,175.8L414.4,175.8ZM425.9,168.0L431.0,176.7L420.8,176.7ZM432.2,167.0L437.3,175.7L427.1,175.7ZM438.5,169.7L443.6,178.4L433.4,178.4ZM444.8,169.8L449.9,178.5L439.6,178.5ZM451.1,170.4L456.2,179.0L445.9,179.0ZM457.4,167.1L462.5,175.8L452.2,175.8ZM463.7,166.5L468.8,175.1L458.6,175.1ZM470.0,163.6L475.1,172.2L464.9,172.2ZM476.3,160.3L481.4,169.0L471.1,169.0ZM482.6,158.0L487.7,166.6L477.4,166.6ZM488.9,158.2L494.0,166.8L483.8,166.8ZM495.2,159.4L500.3,168.1L490.1,168.1ZM501.5,155.2L506.6,163.8L496.4,163.8ZM507.8,154.6L512.9,163.3L502.6,163.3ZM514.1,155.7L519.2,164.4L509.0,164.4ZM520.4,151.9L525.5,160.6L515.2,160.6Z" fill="none" stroke="#0000ff" stroke-width="1.7" stroke-linejoin="round"/>
<path d="M325.1,149.4 331.4,146.1 337.7,148.5 344.0,151.5 350.3,153.5 356.6,156.8 362.9,154.5 369.2,156.8 375.5,155.9 381.8,155.1 388.1,155.4 394.4,155.1 400.7,156.6 407.0,160.4 413.3,160.3 419.6,158.5 425.9,155.9 432.2,153.4 438.5,155.8 444.8,155.9 451.1,153.5 457.4,151.5 463.7,152.6 470.0,149.0 476.3,147.0 482.6,145.1 488.9,146.6 495.2,142.5 501.5,139.7 507.8,137.4 514.1,138.2 520.4,133.6" fill="none" stroke="#ff0000" stroke-width="1.7" stroke-linejoin="round" clip-path="url(#ci)"/>
<path d="M331.4,140.4 332.8,144.8 337.4,144.8 333.7,147.5 335.1,151.8 331.4,149.1 327.7,151.8 329.1,147.5 325.4,144.8 330.0,144.8ZM337.7,142.8 339.1,147.1 343.7,147.1 340.0,149.8 341.4,154.2 337.7,151.5 334.0,154.2 335.4,149.8 331.7,147.1 336.3,147.1ZM344.0,145.8 345.4,150.1 350.0,150.1 346.3,152.8 347.7,157.2 344.0,154.5 340.3,157.2 341.7,152.8 338.0,150.1 342.6,150.1ZM350.3,147.8 351.7,152.2 356.3,152.2 352.6,154.9 354.0,159.2 350.3,156.5 346.6,159.2 348.0,154.9 344.3,152.2 348.9,152.2ZM356.6,151.1 358.0,155.5 362.6,155.5 358.9,158.2 360.3,162.5 356.6,159.9 352.9,162.5 354.3,158.2 350.6,155.5 355.2,155.5ZM362.9,148.8 364.3,153.1 368.9,153.1 365.2,155.8 366.6,160.2 362.9,157.5 359.2,160.2 360.6,155.8 356.9,153.1 361.5,153.1ZM369.2,151.1 370.6,155.5 375.2,155.5 371.5,158.2 372.9,162.5 369.2,159.9 365.5,162.5 366.9,158.2 363.2,155.5 367.8,155.5ZM375.5,150.2 376.9,154.6 381.5,154.6 377.8,157.3 379.2,161.6 375.5,158.9 371.8,161.6 373.2,157.3 369.5,154.6 374.1,154.6ZM381.8,149.4 383.2,153.7 387.8,153.7 384.1,156.4 385.5,160.8 381.8,158.1 378.1,160.8 379.5,156.4 375.8,153.7 380.4,153.7ZM388.1,149.7 389.5,154.1 394.1,154.1 390.4,156.8 391.8,161.1 388.1,158.4 384.4,161.1 385.8,156.8 382.1,154.1 386.7,154.1ZM394.4,149.4 395.8,153.7 400.4,153.7 396.7,156.4 398.1,160.8 394.4,158.1 390.7,160.8 392.1,156.4 388.4,153.7 393.0,153.7ZM400.7,150.9 402.1,155.2 406.7,155.2 403.0,157.9 404.4,162.3 400.7,159.6 397.0,162.3 398.4,157.9 394.7,155.2 399.3,155.2ZM407.0,154.7 408.4,159.1 413.0,159.1 409.3,161.8 410.7,166.1 407.0,163.4 403.3,166.1 404.7,161.8 401.0,159.1 405.6,159.1ZM413.3,154.6 414.7,159.0 419.3,159.0 415.6,161.7 417.0,166.0 413.3,163.3 409.6,166.0 411.0,161.7 407.3,159.0 411.9,159.0ZM419.6,152.8 421.0,157.2 425.6,157.2 421.9,159.9 423.3,164.2 419.6,161.5 415.9,164.2 417.3,159.9 413.6,157.2 418.2,157.2ZM425.9,150.3 427.3,154.6 431.9,154.6 428.2,157.3 429.6,161.6 425.9,159.0 422.2,161.6 423.6,157.3 419.9,154.6 424.5,154.6ZM432.2,147.7 433.6,152.0 438.2,152.0 434.5,154.7 435.9,159.1 432.2,156.4 428.5,159.1 429.9,154.7 426.2,152.0 430.8,152.0ZM438.5,150.1 439.9,154.5 444.5,154.5 440.8,157.2 442.2,161.5 438.5,158.8 434.8,161.5 436.2,157.2 432.5,154.5 437.1,154.5ZM444.8,150.3 446.2,154.6 450.8,154.6 447.1,157.3 448.5,161.6 444.8,159.0 441.1,161.6 442.5,157.3 438.8,154.6 443.4,154.6ZM451.1,147.8 452.5,152.1 457.1,152.1 453.4,154.8 454.8,159.2 451.1,156.5 447.4,159.2 448.8,154.8 445.1,152.1 449.7,152.1ZM457.4,145.8 458.8,150.1 463.4,150.1 459.7,152.8 461.1,157.2 457.4,154.5 453.7,157.2 455.1,152.8 451.4,150.1 456.0,150.1ZM463.7,146.9 465.1,151.3 469.7,151.3 466.0,154.0 467.4,158.3 463.7,155.6 460.0,158.3 461.4,154.0 457.7,151.3 462.3,151.3ZM470.0,143.3 471.4,147.6 476.0,147.6 472.3,150.3 473.7,154.7 470.0,152.0 466.3,154.7 467.7,150.3 464.0,147.6 468.6,147.6ZM476.3,141.3 477.7,145.7 482.3,145.7 478.6,148.4 480.0,152.7 476.3,150.0 472.6,152.7 474.0,148.4 470.3,145.7 474.9,145.7ZM482.6,139.4 484.0,143.7 488.6,143.7 484.9,146.4 486.3,150.8 482.6,148.1 478.9,150.8 480.3,146.4 476.6,143.7 481.2,143.7ZM488.9,140.9 490.3,145.3 494.9,145.3 491.2,147.9 492.6,152.3 488.9,149.6 485.2,152.3 486.6,147.9 482.9,145.3 487.5,145.3ZM495.2,136.8 496.6,141.2 501.2,141.2 497.5,143.9 498.9,148.2 495.2,145.5 491.5,148.2 492.9,143.9 489.2,141.2 493.8,141.2ZM501.5,134.0 502.9,138.3 507.5,138.3 503.8,141.0 505.2,145.4 501.5,142.7 497.8,145.4 499.2,141.0 495.5,138.3 500.1,138.3ZM507.8,131.7 509.2,136.0 513.8,136.0 510.1,138.7 511.5,143.1 507.8,140.4 504.1,143.1 505.5,138.7 501.8,136.0 506.4,136.0ZM514.1,132.5 515.5,136.8 520.1,136.8 516.4,139.5 517.8,143.9 514.1,141.2 510.4,143.9 511.8,139.5 508.1,136.8 512.7,136.8ZM520.4,127.9 521.8,132.3 526.4,132.3 522.7,134.9 524.1,139.3 520.4,136.6 516.7,139.3 518.1,134.9 514.4,132.3 519.0,132.3Z" fill="#ff0000" stroke="#ff0000" stroke-width="0.6" stroke-linejoin="round"/>
<path d="M325.1,170.6 331.4,171.1 337.7,172.9 344.0,172.9 350.3,176.9 356.6,178.3 362.9,177.4 369.2,179.2 375.5,182.2 381.8,182.8 388.1,185.5 394.4,185.5 400.7,184.4 407.0,182.8 413.3,179.6 419.6,178.3 425.9,177.8 432.2,173.8 438.5,172.4 444.8,169.4 451.1,167.9 457.4,164.9 463.7,161.9 470.0,162.2 476.3,160.4 482.6,157.3 488.9,158.9 495.2,155.9 501.5,155.6 507.8,153.0 514.1,150.9 520.4,151.5" fill="none" stroke="#ff0000" stroke-width="1.7" stroke-linejoin="round" clip-path="url(#ci)"/>
<path d="M331.4,165.3L336.5,174.0L326.2,174.0ZM337.7,167.1L342.8,175.7L332.6,175.7ZM344.0,167.1L349.1,175.8L338.9,175.8ZM350.3,171.1L355.4,179.7L345.1,179.7ZM356.6,172.5L361.7,181.2L351.4,181.2ZM362.9,171.6L368.0,180.2L357.8,180.2ZM369.2,173.4L374.3,182.0L364.1,182.0ZM375.5,176.4L380.6,185.0L370.4,185.0ZM381.8,177.0L386.9,185.6L376.6,185.6ZM388.1,179.7L393.2,188.4L382.9,188.4ZM394.4,179.7L399.5,188.3L389.2,188.3ZM400.7,178.6L405.8,187.3L395.6,187.3ZM407.0,177.0L412.1,185.6L401.9,185.6ZM413.3,173.8L418.4,182.5L408.1,182.5ZM419.6,172.5L424.7,181.2L414.4,181.2ZM425.9,172.0L431.0,180.7L420.8,180.7ZM432.2,168.0L437.3,176.7L427.1,176.7ZM438.5,166.6L443.6,175.2L433.4,175.2ZM444.8,163.6L449.9,172.2L439.6,172.2ZM451.1,162.1L456.2,170.7L445.9,170.7ZM457.4,159.1L462.5,167.7L452.2,167.7ZM463.7,156.1L468.8,164.8L458.6,164.8ZM470.0,156.4L475.1,165.0L464.9,165.0ZM476.3,154.6L481.4,163.3L471.1,163.3ZM482.6,151.5L487.7,160.2L477.4,160.2ZM488.9,153.1L494.0,161.8L483.8,161.8ZM495.2,150.1L500.3,158.8L490.1,158.8ZM501.5,149.8L506.6,158.4L496.4,158.4ZM507.8,147.2L512.9,155.9L502.6,155.9ZM514.1,145.1L519.2,153.7L509.0,153.7ZM520.4,145.7L525.5,154.3L515.2,154.3Z" fill="none" stroke="#ff0000" stroke-width="1.7" stroke-linejoin="round"/>
<path d="M325.1,125.4 331.4,122.0 337.7,122.0 344.0,120.2 350.3,113.0 356.6,115.3 362.9,113.9 369.2,109.2 375.5,107.7 381.8,107.7 388.1,109.5 394.4,116.6 400.7,116.6 407.0,120.2 413.3,125.6 419.6,127.3 425.9,122.0 432.2,122.0 438.5,116.6 444.8,115.3 451.1,116.6 457.4,110.4 463.7,108.3 470.0,110.0 476.3,109.5 482.6,106.8 488.9,104.7 495.2,105.9 501.5,101.4 507.8,107.7 514.1,108.6 520.4,114.1" fill="none" stroke="#000000" stroke-width="1.7" stroke-linejoin="round" clip-path="url(#ci)"/>
<path d="M331.4,116.3 332.8,120.6 337.4,120.6 333.7,123.3 335.1,127.7 331.4,125.0 327.7,127.7 329.1,123.3 325.4,120.6 330.0,120.6ZM337.7,116.3 339.1,120.6 343.7,120.6 340.0,123.3 341.4,127.7 337.7,125.0 334.0,127.7 335.4,123.3 331.7,120.6 336.3,120.6ZM344.0,114.5 345.4,118.8 350.0,118.8 346.3,121.5 347.7,125.9 344.0,123.2 340.3,125.9 341.7,121.5 338.0,118.8 342.6,118.8ZM350.3,107.3 351.7,111.7 356.3,111.7 352.6,114.4 354.0,118.7 350.3,116.0 346.6,118.7 348.0,114.4 344.3,111.7 348.9,111.7ZM356.6,109.6 358.0,113.9 362.6,113.9 358.9,116.6 360.3,121.0 356.6,118.3 352.9,121.0 354.3,116.6 350.6,113.9 355.2,113.9ZM362.9,108.2 364.3,112.6 368.9,112.6 365.2,115.3 366.6,119.6 362.9,116.9 359.2,119.6 360.6,115.3 356.9,112.6 361.5,112.6ZM369.2,103.5 370.6,107.9 375.2,107.9 371.5,110.6 372.9,114.9 369.2,112.2 365.5,114.9 366.9,110.6 363.2,107.9 367.8,107.9ZM375.5,102.0 376.9,106.3 381.5,106.3 377.8,109.0 379.2,113.4 375.5,110.7 371.8,113.4 373.2,109.0 369.5,106.3 374.1,106.3ZM381.8,102.0 383.2,106.3 387.8,106.3 384.1,109.0 385.5,113.4 381.8,110.7 378.1,113.4 379.5,109.0 375.8,106.3 380.4,106.3ZM388.1,103.8 389.5,108.1 394.1,108.1 390.4,110.8 391.8,115.2 388.1,112.5 384.4,115.2 385.8,110.8 382.1,108.1 386.7,108.1ZM394.4,110.9 395.8,115.3 400.4,115.3 396.7,118.0 398.1,122.3 394.4,119.6 390.7,122.3 392.1,118.0 388.4,115.3 393.0,115.3ZM400.7,110.9 402.1,115.3 406.7,115.3 403.0,118.0 404.4,122.3 400.7,119.6 397.0,122.3 398.4,118.0 394.7,115.3 399.3,115.3ZM407.0,114.5 408.4,118.8 413.0,118.8 409.3,121.5 410.7,125.9 407.0,123.2 403.3,125.9 404.7,121.5 401.0,118.8 405.6,118.8ZM413.3,119.9 414.7,124.2 419.3,124.2 415.6,126.9 417.0,131.3 413.3,128.6 409.6,131.3 411.0,126.9 407.3,124.2 411.9,124.2ZM419.6,121.6 421.0,126.0 425.6,126.0 421.9,128.7 423.3,133.0 419.6,130.4 415.9,133.0 417.3,128.7 413.6,126.0 418.2,126.0ZM425.9,116.3 427.3,120.6 431.9,120.6 428.2,123.3 429.6,127.7 425.9,125.0 422.2,127.7 423.6,123.3 419.9,120.6 424.5,120.6ZM432.2,116.3 433.6,120.6 438.2,120.6 434.5,123.3 435.9,127.7 432.2,125.0 428.5,127.7 429.9,123.3 426.2,120.6 430.8,120.6ZM438.5,110.9 439.9,115.3 444.5,115.3 440.8,118.0 442.2,122.3 438.5,119.6 434.8,122.3 436.2,118.0 432.5,115.3 437.1,115.3ZM444.8,109.6 446.2,113.9 450.8,113.9 447.1,116.6 448.5,121.0 444.8,118.3 441.1,121.0 442.5,116.6 438.8,113.9 443.4,113.9ZM451.1,110.9 452.5,115.3 457.1,115.3 453.4,118.0 454.8,122.3 451.1,119.6 447.4,122.3 448.8,118.0 445.1,115.3 449.7,115.3ZM457.4,104.7 458.8,109.0 463.4,109.0 459.7,111.7 461.1,116.1 457.4,113.4 453.7,116.1 455.1,111.7 451.4,109.0 456.0,109.0ZM463.7,102.6 465.1,107.0 469.7,107.0 466.0,109.7 467.4,114.0 463.7,111.3 460.0,114.0 461.4,109.7 457.7,107.0 462.3,107.0ZM470.0,104.3 471.4,108.6 476.0,108.6 472.3,111.3 473.7,115.7 470.0,113.0 466.3,115.7 467.7,111.3 464.0,108.6 468.6,108.6ZM476.3,103.8 477.7,108.1 482.3,108.1 478.6,110.8 480.0,115.2 476.3,112.5 472.6,115.2 474.0,110.8 470.3,108.1 474.9,108.1ZM482.6,101.1 484.0,105.4 488.6,105.4 484.9,108.1 486.3,112.5 482.6,109.8 478.9,112.5 480.3,108.1 476.6,105.4 481.2,105.4ZM488.9,99.0 490.3,103.4 494.9,103.4 491.2,106.1 492.6,110.4 488.9,107.7 485.2,110.4 486.6,106.1 482.9,103.4 487.5,103.4ZM495.2,100.2 496.6,104.5 501.2,104.5 497.5,107.2 498.9,111.6 495.2,108.9 491.5,111.6 492.9,107.2 489.2,104.5 493.8,104.5ZM501.5,95.7 502.9,100.1 507.5,100.1 503.8,102.8 505.2,107.1 501.5,104.4 497.8,107.1 499.2,102.8 495.5,100.1 500.1,100.1ZM507.8,102.0 509.2,106.3 513.8,106.3 510.1,109.0 511.5,113.4 507.8,110.7 504.1,113.4 505.5,109.0 501.8,106.3 506.4,106.3ZM514.1,102.9 515.5,107.2 520.1,107.2 516.4,109.9 517.8,114.3 514.1,111.6 510.4,114.3 511.8,109.9 508.1,107.2 512.7,107.2ZM520.4,108.4 521.8,112.8 526.4,112.8 522.7,115.5 524.1,119.8 520.4,117.1 516.7,119.8 518.1,115.5 514.4,112.8 519.0,112.8Z" fill="#000000" stroke="#000000" stroke-width="0.6" stroke-linejoin="round"/>
<path d="M325.1,92.6 331.4,90.2 337.7,84.4 344.0,86.2 350.3,85.3 356.6,80.9 362.9,80.0 369.2,78.2 375.5,75.5 381.8,72.8 388.1,70.1 394.4,80.9 400.7,79.1 407.0,85.3 413.3,80.9 419.6,79.1 425.9,81.7 432.2,78.2 438.5,75.5 444.8,69.2 451.1,82.6 457.4,65.7 463.7,72.8 470.0,56.7 476.3,71.9 482.6,83.5 488.9,81.7 495.2,69.2 501.5,59.4 507.8,53.1 514.1,65.7 520.4,78.8" fill="none" stroke="#000000" stroke-width="1.7" stroke-linejoin="round" clip-path="url(#ci)"/>
<path d="M331.4,84.4L336.5,93.1L326.2,93.1ZM337.7,78.6L342.8,87.3L332.6,87.3ZM344.0,80.4L349.1,89.1L338.9,89.1ZM350.3,79.5L355.4,88.2L345.1,88.2ZM356.6,75.1L361.7,83.7L351.4,83.7ZM362.9,74.2L368.0,82.8L357.8,82.8ZM369.2,72.4L374.3,81.0L364.1,81.0ZM375.5,69.7L380.6,78.3L370.4,78.3ZM381.8,67.0L386.9,75.7L376.6,75.7ZM388.1,64.3L393.2,73.0L382.9,73.0ZM394.4,75.1L399.5,83.7L389.2,83.7ZM400.7,73.3L405.8,81.9L395.6,81.9ZM407.0,79.5L412.1,88.2L401.9,88.2ZM413.3,75.1L418.4,83.7L408.1,83.7ZM419.6,73.3L424.7,81.9L414.4,81.9ZM425.9,75.9L431.0,84.6L420.8,84.6ZM432.2,72.4L437.3,81.0L427.1,81.0ZM438.5,69.7L443.6,78.3L433.4,78.3ZM444.8,63.4L449.9,72.1L439.6,72.1ZM451.1,76.8L456.2,85.5L445.9,85.5ZM457.4,59.9L462.5,68.5L452.2,68.5ZM463.7,67.0L468.8,75.7L458.6,75.7ZM470.0,50.9L475.1,59.6L464.9,59.6ZM476.3,66.1L481.4,74.8L471.1,74.8ZM482.6,77.7L487.7,86.4L477.4,86.4ZM488.9,75.9L494.0,84.6L483.8,84.6ZM495.2,63.4L500.3,72.1L490.1,72.1ZM501.5,53.6L506.6,62.2L496.4,62.2ZM507.8,47.3L512.9,56.0L502.6,56.0ZM514.1,59.9L519.2,68.5L509.0,68.5ZM520.4,73.0L525.5,81.6L515.2,81.6Z" fill="none" stroke="#000000" stroke-width="1.7" stroke-linejoin="round"/>
<path d="M325.1,181.5 331.4,179.2 337.7,188.1 344.0,195.3 350.3,193.3 356.6,198.7 362.9,196.2 369.2,197.6 375.5,197.6 381.8,196.0 388.1,196.2 394.4,198.0 400.7,197.1 407.0,189.0 413.3,188.6 419.6,187.2 425.9,185.2 432.2,182.8 438.5,178.8 444.8,178.3 451.1,177.8 457.4,171.1 463.7,171.7 470.0,166.7 476.3,166.9 482.6,164.9 488.9,160.4 495.2,160.7 501.5,152.7 507.8,153.3 514.1,146.6 520.4,144.3" fill="none" stroke="#00ffff" stroke-width="1.7" stroke-linejoin="round" clip-path="url(#ci)"/>
<path d="M331.4,173.5 332.8,177.8 337.4,177.8 333.7,180.5 335.1,184.9 331.4,182.2 327.7,184.9 329.1,180.5 325.4,177.8 330.0,177.8ZM337.7,182.4 339.1,186.8 343.7,186.8 340.0,189.5 341.4,193.8 337.7,191.1 334.0,193.8 335.4,189.5 331.7,186.8 336.3,186.8ZM344.0,189.6 345.4,193.9 350.0,193.9 346.3,196.6 347.7,201.0 344.0,198.3 340.3,201.0 341.7,196.6 338.0,193.9 342.6,193.9ZM350.3,187.6 351.7,192.0 356.3,192.0 352.6,194.7 354.0,199.0 350.3,196.3 346.6,199.0 348.0,194.7 344.3,192.0 348.9,192.0ZM356.6,193.0 358.0,197.4 362.6,197.4 358.9,200.0 360.3,204.4 356.6,201.7 352.9,204.4 354.3,200.0 350.6,197.4 355.2,197.4ZM362.9,190.5 364.3,194.8 368.9,194.8 365.2,197.5 366.6,201.9 362.9,199.2 359.2,201.9 360.6,197.5 356.9,194.8 361.5,194.8ZM369.2,191.9 370.6,196.3 375.2,196.3 371.5,199.0 372.9,203.3 369.2,200.6 365.5,203.3 366.9,199.0 363.2,196.3 367.8,196.3ZM375.5,191.9 376.9,196.3 381.5,196.3 377.8,199.0 379.2,203.3 375.5,200.6 371.8,203.3 373.2,199.0 369.5,196.3 374.1,196.3ZM381.8,190.3 383.2,194.7 387.8,194.7 384.1,197.4 385.5,201.7 381.8,199.0 378.1,201.7 379.5,197.4 375.8,194.7 380.4,194.7ZM388.1,190.5 389.5,194.8 394.1,194.8 390.4,197.5 391.8,201.9 388.1,199.2 384.4,201.9 385.8,197.5 382.1,194.8 386.7,194.8ZM394.4,192.3 395.8,196.6 400.4,196.6 396.7,199.3 398.1,203.7 394.4,201.0 390.7,203.7 392.1,199.3 388.4,196.6 393.0,196.6ZM400.7,191.4 402.1,195.7 406.7,195.7 403.0,198.4 404.4,202.8 400.7,200.1 397.0,202.8 398.4,198.4 394.7,195.7 399.3,195.7ZM407.0,183.3 408.4,187.7 413.0,187.7 409.3,190.4 410.7,194.7 407.0,192.0 403.3,194.7 404.7,190.4 401.0,187.7 405.6,187.7ZM413.3,182.9 414.7,187.3 419.3,187.3 415.6,190.0 417.0,194.3 413.3,191.6 409.6,194.3 411.0,190.0 407.3,187.3 411.9,187.3ZM419.6,181.5 421.0,185.9 425.6,185.9 421.9,188.6 423.3,192.9 419.6,190.2 415.9,192.9 417.3,188.6 413.6,185.9 418.2,185.9ZM425.9,179.5 427.3,183.8 431.9,183.8 428.2,186.5 429.6,190.9 425.9,188.2 422.2,190.9 423.6,186.5 419.9,183.8 424.5,183.8ZM432.2,177.1 433.6,181.4 438.2,181.4 434.5,184.1 435.9,188.5 432.2,185.8 428.5,188.5 429.9,184.1 426.2,181.4 430.8,181.4ZM438.5,173.1 439.9,177.5 444.5,177.5 440.8,180.2 442.2,184.5 438.5,181.8 434.8,184.5 436.2,180.2 432.5,177.5 437.1,177.5ZM444.8,172.6 446.2,177.0 450.8,177.0 447.1,179.6 448.5,184.0 444.8,181.3 441.1,184.0 442.5,179.6 438.8,177.0 443.4,177.0ZM451.1,172.1 452.5,176.5 457.1,176.5 453.4,179.2 454.8,183.5 451.1,180.8 447.4,183.5 448.8,179.2 445.1,176.5 449.7,176.5ZM457.4,165.4 458.8,169.8 463.4,169.8 459.7,172.5 461.1,176.8 457.4,174.2 453.7,176.8 455.1,172.5 451.4,169.8 456.0,169.8ZM463.7,166.0 465.1,170.4 469.7,170.4 466.0,173.0 467.4,177.4 463.7,174.7 460.0,177.4 461.4,173.0 457.7,170.4 462.3,170.4ZM470.0,161.0 471.4,165.3 476.0,165.3 472.3,168.0 473.7,172.4 470.0,169.7 466.3,172.4 467.7,168.0 464.0,165.3 468.6,165.3ZM476.3,161.2 477.7,165.6 482.3,165.6 478.6,168.3 480.0,172.6 476.3,169.9 472.6,172.6 474.0,168.3 470.3,165.6 474.9,165.6ZM482.6,159.2 484.0,163.5 488.6,163.5 484.9,166.2 486.3,170.6 482.6,167.9 478.9,170.6 480.3,166.2 476.6,163.5 481.2,163.5ZM488.9,154.7 490.3,159.1 494.9,159.1 491.2,161.8 492.6,166.1 488.9,163.4 485.2,166.1 486.6,161.8 482.9,159.1 487.5,159.1ZM495.2,155.0 496.6,159.4 501.2,159.4 497.5,162.1 498.9,166.4 495.2,163.7 491.5,166.4 492.9,162.1 489.2,159.4 493.8,159.4ZM501.5,147.0 502.9,151.3 507.5,151.3 503.8,154.0 505.2,158.4 501.5,155.7 497.8,158.4 499.2,154.0 495.5,151.3 500.1,151.3ZM507.8,147.6 509.2,151.9 513.8,151.9 510.1,154.6 511.5,159.0 507.8,156.3 504.1,159.0 505.5,154.6 501.8,151.9 506.4,151.9ZM514.1,140.9 515.5,145.2 520.1,145.2 516.4,147.9 517.8,152.3 514.1,149.6 510.4,152.3 511.8,147.9 508.1,145.2 512.7,145.2ZM520.4,138.6 521.8,143.0 526.4,143.0 522.7,145.7 524.1,150.0 520.4,147.3 516.7,150.0 518.1,145.7 514.4,143.0 519.0,143.0Z" fill="#00ffff" stroke="#00ffff" stroke-width="0.6" stroke-linejoin="round"/>
<path d="M325.1,197.8 331.4,197.1 337.7,206.9 344.0,207.1 350.3,206.4 356.6,207.9 362.9,207.8 369.2,206.9 375.5,208.0 381.8,208.9 388.1,207.8 394.4,211.4 400.7,208.7 407.0,200.7 413.3,198.1 419.6,195.0 425.9,193.5 432.2,192.4 438.5,187.9 444.8,184.6 451.1,181.8 457.4,178.3 463.7,174.2 470.0,171.6 476.3,171.1 482.6,169.6 488.9,165.2 495.2,164.9 501.5,161.8 507.8,162.4 514.1,159.7 520.4,157.7" fill="none" stroke="#00ffff" stroke-width="1.7" stroke-linejoin="round" clip-path="url(#ci)"/>
<path d="M331.4,191.3L336.5,199.9L326.2,199.9ZM337.7,201.1L342.8,209.8L332.6,209.8ZM344.0,201.3L349.1,210.0L338.9,210.0ZM350.3,200.6L355.4,209.3L345.1,209.3ZM356.6,202.1L361.7,210.8L351.4,210.8ZM362.9,202.0L368.0,210.7L357.8,210.7ZM369.2,201.1L374.3,209.8L364.1,209.8ZM375.5,202.2L380.6,210.8L370.4,210.8ZM381.8,203.1L386.9,211.8L376.6,211.8ZM388.1,202.0L393.2,210.7L382.9,210.7ZM394.4,205.6L399.5,214.2L389.2,214.2ZM400.7,202.9L405.8,211.5L395.6,211.5ZM407.0,194.8L412.1,203.5L401.9,203.5ZM413.3,192.3L418.4,201.0L408.1,201.0ZM419.6,189.2L424.7,197.9L414.4,197.9ZM425.9,187.7L431.0,196.3L420.8,196.3ZM432.2,186.6L437.3,195.3L427.1,195.3ZM438.5,182.1L443.6,190.7L433.4,190.7ZM444.8,178.8L449.9,187.4L439.6,187.4ZM451.1,176.0L456.2,184.6L445.9,184.6ZM457.4,172.5L462.5,181.2L452.2,181.2ZM463.7,168.4L468.8,177.1L458.6,177.1ZM470.0,165.8L475.1,174.4L464.9,174.4ZM476.3,165.3L481.4,174.0L471.1,174.0ZM482.6,163.8L487.7,172.5L477.4,172.5ZM488.9,159.4L494.0,168.0L483.8,168.0ZM495.2,159.1L500.3,167.7L490.1,167.7ZM501.5,156.0L506.6,164.7L496.4,164.7ZM507.8,156.6L512.9,165.2L502.6,165.2ZM514.1,153.9L519.2,162.5L509.0,162.5ZM520.4,151.9L525.5,160.6L515.2,160.6Z" fill="none" stroke="#00ffff" stroke-width="1.7" stroke-linejoin="round"/>
<path d="M331.4,242.2V239.7M331.4,15.5V18.0M394.4,242.2V239.7M394.4,15.5V18.0M457.4,242.2V239.7M457.4,15.5V18.0M520.4,242.2V239.7M520.4,15.5V18.0M328.0,223.0H330.5M525.1,223.0H522.6M328.0,178.3H330.5M525.1,178.3H522.6M328.0,133.6H330.5M525.1,133.6H522.6M328.0,88.9H330.5M525.1,88.9H522.6M328.0,44.2H330.5M525.1,44.2H522.6" stroke="#262626" stroke-width="1" fill="none"/>
<rect x="328.0" y="15.5" width="197.1" height="226.7" fill="none" stroke="#262626" stroke-width="1.1"/>
<text x="331.4" y="260" font-family="Liberation Sans, Arial, sans-serif" stroke="#262626" stroke-width="0.3" font-size="12.5" fill="#262626" text-anchor="middle">70</text>
<text x="394.4" y="260" font-family="Liberation Sans, Arial, sans-serif" stroke="#262626" stroke-width="0.3" font-size="12.5" fill="#262626" text-anchor="middle">80</text>
<text x="457.4" y="260" font-family="Liberation Sans, Arial, sans-serif" stroke="#262626" stroke-width="0.3" font-size="12.5" fill="#262626" text-anchor="middle">90</text>
<text x="520.4" y="260" font-family="Liberation Sans, Arial, sans-serif" stroke="#262626" stroke-width="0.3" font-size="12.5" fill="#262626" text-anchor="middle">100</text>
<text x="322.7" y="227.5" font-family="Liberation Sans, Arial, sans-serif" stroke="#262626" stroke-width="0.3" font-size="12.5" fill="#262626" text-anchor="end">5</text>
<text x="322.7" y="182.8" font-family="Liberation Sans, Arial, sans-serif" stroke="#262626" stroke-width="0.3" font-size="12.5" fill="#262626" text-anchor="end">10</text>
<text x="322.7" y="138.1" font-family="Liberation Sans, Arial, sans-serif" stroke="#262626" stroke-width="0.3" font-size="12.5" fill="#262626" text-anchor="end">15</text>
<text x="322.7" y="93.4" font-family="Liberation Sans, Arial, sans-serif" stroke="#262626" stroke-width="0.3" font-size="12.5" fill="#262626" text-anchor="end">20</text>
<text x="322.7" y="48.7" font-family="Liberation Sans, Arial, sans-serif" stroke="#262626" stroke-width="0.3" font-size="12.5" fill="#262626" text-anchor="end">25</text>
<circle cx="520.4" cy="78.8" r="3.1" fill="#1f1f24" stroke="#f7f4c9" stroke-width="1.3"/>
<rect x="437.4" y="23.5" width="82.0" height="52.0" rx="2.5" fill="#f9f9fc" stroke="#b4b4b4" stroke-width="1"/>
<text x="445.3" y="44.9" font-family="Liberation Sans, Arial, sans-serif" font-size="14.5" fill="#262626">X</text>
<text x="459.6" y="44.9" font-family="Liberation Sans, Arial, sans-serif" font-size="14.5" font-weight="bold" fill="#168cf0">100</text>
<text x="445.3" y="64.5" font-family="Liberation Sans, Arial, sans-serif" font-size="14.5" fill="#262626">Y</text>
<text x="459.2" y="64.5" font-family="Liberation Sans, Arial, sans-serif" font-size="14.5" font-weight="bold" fill="#168cf0">21.1317</text>
<circle cx="520.4" cy="114.1" r="3.1" fill="#1f1f24" stroke="#f7f4c9" stroke-width="1.3"/>
<rect x="437.4" y="115.2" width="81.8" height="52.5" rx="2.5" fill="#f9f9fc" stroke="#b4b4b4" stroke-width="1"/>
<text x="445.3" y="136.6" font-family="Liberation Sans, Arial, sans-serif" font-size="14.5" fill="#262626">X</text>
<text x="459.6" y="136.6" font-family="Liberation Sans, Arial, sans-serif" font-size="14.5" font-weight="bold" fill="#168cf0">100</text>
<text x="445.3" y="156.2" font-family="Liberation Sans, Arial, sans-serif" font-size="14.5" fill="#262626">Y</text>
<text x="459.2" y="156.2" font-family="Liberation Sans, Arial, sans-serif" font-size="14.5" font-weight="bold" fill="#168cf0">17.1799</text>
<rect x="393.5" y="331" width="140.4" height="57.3" fill="none" stroke="#ff0000" stroke-width="1.1"/>
<path d="M467.6,325.4L408.5,263.5" stroke="#000" stroke-width="1.2"/>
<path d="M401.3,254.9L415.8,262.2L408.8,263.2L407.4,269.8Z" fill="#000"/>
</svg>
</body></html>
